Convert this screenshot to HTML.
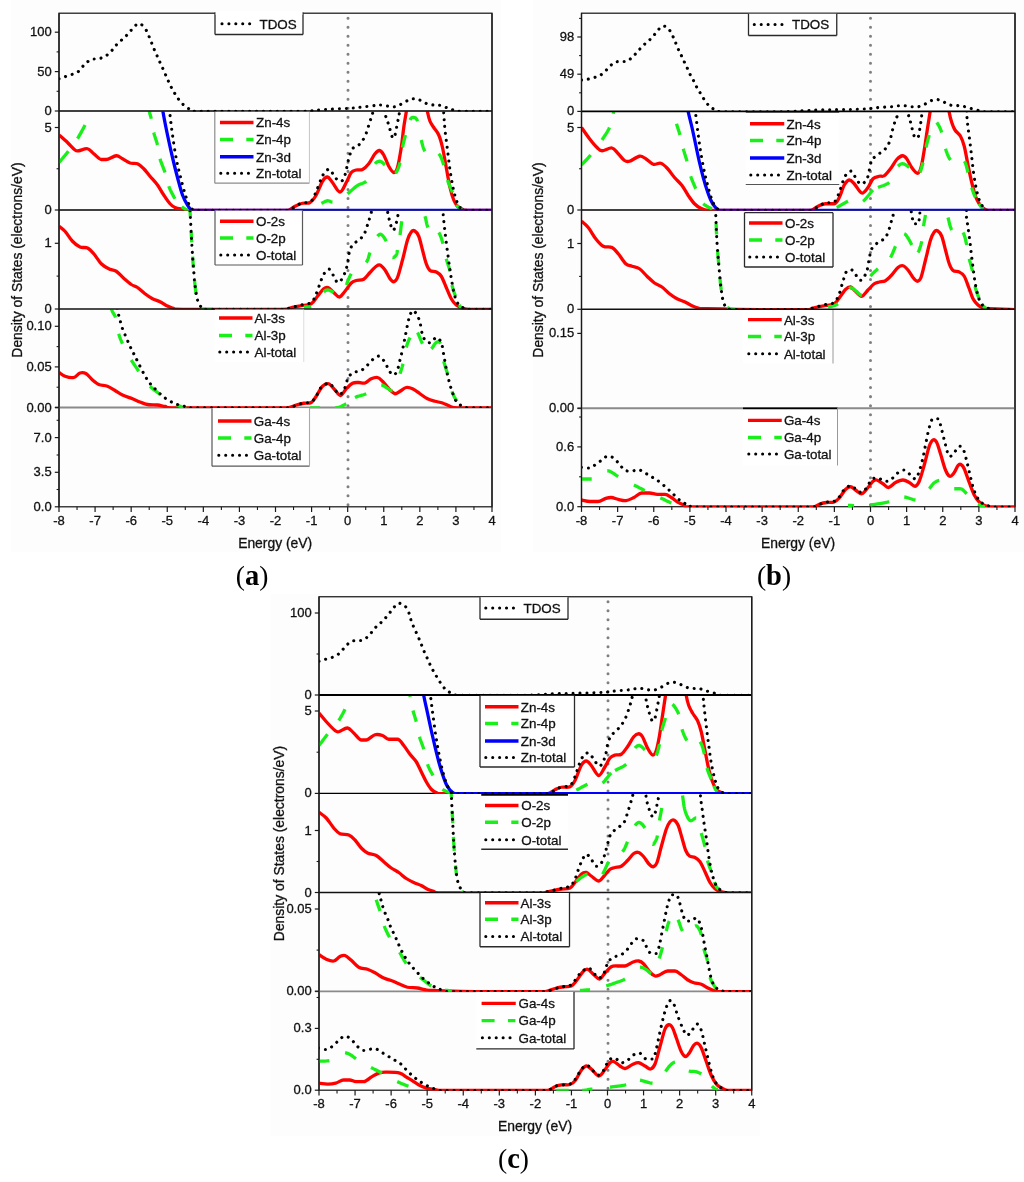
<!DOCTYPE html>
<html lang="en">
<head>
<meta charset="utf-8">
<title>Density of States</title>
<style>
html,body{margin:0;padding:0;background:#ffffff;}
body{width:1024px;height:1182px;overflow:hidden;}
svg{display:block;font-family:"Liberation Sans",sans-serif;}
</style>
</head>
<body>
<svg width="1024" height="1182" viewBox="0 0 1024 1182">
<defs>
<clipPath id="ca0"><rect x="59" y="13.7" width="433" height="97.8"/></clipPath>
<clipPath id="ca1"><rect x="59" y="111.5" width="433" height="99"/></clipPath>
<clipPath id="ca2"><rect x="59" y="210.5" width="433" height="99"/></clipPath>
<clipPath id="ca3"><rect x="59" y="309.5" width="433" height="98.5"/></clipPath>
<clipPath id="ca4"><rect x="59" y="408" width="433" height="99.3"/></clipPath>
<clipPath id="cb0"><rect x="581.5" y="13.7" width="433.5" height="98.2"/></clipPath>
<clipPath id="cb1"><rect x="581.5" y="111.9" width="433.5" height="98.6"/></clipPath>
<clipPath id="cb2"><rect x="581.5" y="210.5" width="433.5" height="99.3"/></clipPath>
<clipPath id="cb3"><rect x="581.5" y="309.8" width="433.5" height="99"/></clipPath>
<clipPath id="cb4"><rect x="581.5" y="408.8" width="433.5" height="98.4"/></clipPath>
<clipPath id="cc0"><rect x="319" y="597.25" width="432.75" height="98.25"/></clipPath>
<clipPath id="cc1"><rect x="319" y="695.5" width="432.75" height="98.4"/></clipPath>
<clipPath id="cc2"><rect x="319" y="793.9" width="432.75" height="99.1"/></clipPath>
<clipPath id="cc3"><rect x="319" y="893" width="432.75" height="98.8"/></clipPath>
<clipPath id="cc4"><rect x="319" y="991.8" width="432.75" height="98.9"/></clipPath>
</defs>
<rect x="11" y="0" width="490" height="552" fill="#fdfdfd"/>
<rect x="533" y="0" width="491" height="552" fill="#fdfdfd"/>
<rect x="271" y="594" width="489" height="542" fill="#fdfdfd"/>
<line x1="348" y1="18.2" x2="348" y2="506.8" stroke="#808080" stroke-width="3" stroke-dasharray="0.01 9" stroke-linecap="round"/>
<rect x="59" y="13.2" width="433" height="493.6" fill="none" stroke="#1a1a1a" stroke-width="1.25"/>
<line x1="59" y1="210" x2="492" y2="210" stroke="#000" stroke-width="1.4"/>
<line x1="55" y1="407.5" x2="492" y2="407.5" stroke="#8a8a8a" stroke-width="1.8"/>
<path d="M59 78.75C60 78.42 62.75 77.5 65 76.75C67.25 76 70.21 75.17 72.5 74.25C74.79 73.33 76.75 72.88 78.75 71.25C80.75 69.62 82.42 66.46 84.5 64.5C86.58 62.54 89.08 60.46 91.25 59.5C93.42 58.54 95.33 59.17 97.5 58.75C99.67 58.33 102.04 58.17 104.25 57C106.46 55.83 108.75 53.75 110.75 51.75C112.75 49.75 114.29 47.08 116.25 45C118.21 42.92 120.42 41.21 122.5 39.25C124.58 37.29 126.75 35.42 128.75 33.25C130.75 31.08 132.62 27.83 134.5 26.25C136.38 24.67 138.12 23.21 140 23.75C141.88 24.29 144.21 27.29 145.75 29.5C147.29 31.71 148.25 34.71 149.25 37C150.25 39.29 150.88 41.08 151.75 43.25C152.62 45.42 153.54 47.75 154.5 50C155.46 52.25 156.54 54.58 157.5 56.75C158.46 58.92 159.29 60.88 160.25 63C161.21 65.12 162.25 67.29 163.25 69.5C164.25 71.71 165.25 74 166.25 76.25C167.25 78.5 168.21 80.79 169.25 83C170.29 85.21 171.33 87.38 172.5 89.5C173.67 91.62 174.88 93.67 176.25 95.75C177.62 97.83 179 100.04 180.75 102C182.5 103.96 184.79 106.17 186.75 107.5C188.71 108.83 190.29 109.37 192.5 110C194.71 110.63 188.75 111.3 200 111.3C220 111.3 240 111.3 260 111.3C273.33 111.3 286.67 111.3 300 111.3C310.83 111.3 316.67 110.01 325 109.5C333.33 108.99 343.75 108.67 350 108.25C356.25 107.83 358.33 107.46 362.5 107C366.67 106.54 371.92 105.83 375 105.5C378.08 105.17 378.71 104.88 381 105C383.29 105.12 386.42 105.96 388.75 106.25C391.08 106.54 392.96 107.08 395 106.75C397.04 106.42 398.71 105.38 401 104.25C403.29 103.12 406.42 100.92 408.75 100C411.08 99.08 412.96 98.67 415 98.75C417.04 98.83 418.83 99.58 421 100.5C423.17 101.42 425.67 103.5 428 104.25C430.33 105 432.83 104.79 435 105C437.17 105.21 438.92 105 441 105.5C443.08 106 445.38 107.25 447.5 108C449.62 108.75 451.33 109.45 453.75 110C456.17 110.55 455.62 111.3 462 111.3C472 111.3 482 111.3 492 111.3" fill="none" stroke="#000000" stroke-width="3.1" stroke-dasharray="0.01 6.9" stroke-dashoffset="0" stroke-linecap="round" clip-path="url(#ca0)"/>
<path d="M59 135C60.42 136.25 64.83 140 67.5 142.5C70.17 145 73.12 148.62 75 150C76.88 151.38 76.67 150.96 78.75 150.75C80.83 150.54 85 148.25 87.5 148.75C90 149.25 91.46 151.96 93.75 153.75C96.04 155.54 99.17 159.5 101.25 159.5C102.92 159.5 104.58 159.5 106.25 159.5C108.75 159.5 113.54 155.88 116.25 155.75C118.96 155.62 120.21 157.54 122.5 158.75C124.79 159.96 127.5 162.17 130 163C132.5 163.83 135.21 162.79 137.5 163.75C139.79 164.71 141.67 166.67 143.75 168.75C145.83 170.83 147.71 173.54 150 176.25C152.29 178.96 155.21 181.88 157.5 185C159.79 188.12 161.67 191.88 163.75 195C165.83 198.12 168.12 201.67 170 203.75C171.88 205.83 172.92 206.58 175 207.5C177.08 208.42 180 208.78 182.5 209.25C185 209.72 180.42 210.3 190 210.3C206.67 210.3 223.33 210.3 240 210.3C253.33 210.3 266.67 210.3 280 210.3C282.5 210.3 285 210.3 287.5 210.3C290 210.3 292.5 207.43 295 206.25C297.5 205.07 300 203.88 302.5 203.25C305 202.62 307.71 203.88 310 202.5C312.29 201.12 314.17 198.54 316.25 195C318.33 191.46 320.62 184.25 322.5 181.25C324.38 178.25 325.83 176.79 327.5 177C329.17 177.21 330.42 180 332.5 182.5C334.58 185 337.71 192 340 192C342.29 192 344.38 185.75 346.25 182.5C348.12 179.25 349.58 174.58 351.25 172.5C352.92 170.42 354.38 170.5 356.25 170C358.12 169.5 360.42 170.54 362.5 169.5C364.58 168.46 366.67 166.38 368.75 163.75C370.83 161.12 373.21 155.96 375 153.75C376.79 151.54 378.04 150.29 379.5 150.5C380.96 150.71 382.21 152.38 383.75 155C385.29 157.62 387.08 163.33 388.75 166.25C390.42 169.17 392.29 172.29 393.75 172.5C395.21 172.71 396.25 171.67 397.5 167.5C398.75 163.33 400.21 154.17 401.25 147.5C402.29 140.83 402.92 133.42 403.75 127.5C404.58 121.58 405.38 117.42 406.25 112C407.12 106.58 407.21 100.33 409 95C410.79 89.67 414.42 80 417 80C419.58 80 422.75 89.67 424.5 95C426.25 100.33 426.58 107.62 427.5 112C428.42 116.38 428.96 118.67 430 121.25C431.04 123.83 432.29 125.21 433.75 127.5C435.21 129.79 437.29 131.67 438.75 135C440.21 138.33 441.25 142.08 442.5 147.5C443.75 152.92 445 160.83 446.25 167.5C447.5 174.17 448.75 182.08 450 187.5C451.25 192.92 452.5 196.88 453.75 200C455 203.12 456.04 204.71 457.5 206.25C458.96 207.79 460.83 208.57 462.5 209.25C464.17 209.93 462.58 210.3 467.5 210.3C475.67 210.3 483.83 210.3 492 210.3" fill="none" stroke="#ff0000" stroke-width="3.3" stroke-linejoin="round" stroke-linecap="butt" clip-path="url(#ca1)"/>
<path d="M59 162.5 L59.61 161.78 L60.41 160.85 L61.37 159.74 L62.44 158.5 L63.58 157.16 L64.74 155.77 L65.9 154.37 L67 153 L68.08 151.65 L68.44 151.19 M77.52 138.58 L78.69 136.66 L79.85 134.67 L81.01 132.63 L82.15 130.56 L83.26 128.47 L84.32 126.38 L85 125 M92 108 L92.67 106.09 L93.3 104.16 L93.9 102.26 L94.44 100.44 L94.92 98.75 L95.35 97.24 L95.71 95.98 L96 95" fill="none" stroke="#19f019" stroke-width="3.3" stroke-linejoin="round" stroke-linecap="butt" clip-path="url(#ca1)"/>
<path d="M146 95 L146.28 96.38 L146.67 98.29 L147.13 100.58 L147.64 103.08 L148.16 105.63 L148.67 108.07 L149.12 110.25 L149.5 112 L149.8 113.29 L150.04 114.24 L150.25 114.97 L150.44 115.58 L150.62 116.16 L150.8 116.81 L151.01 117.64 L151.25 118.75 M153.75 132.5 L154.17 134.11 L154.63 135.68 L155.12 137.22 L155.62 138.75 L156.13 140.28 L156.62 141.82 L157.08 143.39 L157.5 145 M160 158.75 L160.51 160.47 L161.1 162.19 L161.75 163.91 L162.42 165.62 L163.11 167.34 L163.78 169.06 L164.42 170.78 L165 172.5 M168.75 186.25 L169.42 187.92 L170.17 189.61 L170.97 191.3 L171.8 192.97 L172.64 194.58 L173.47 196.09 L174.26 197.5 L175 198.75 M181.79 206.69 L182.38 207.17 L182.98 207.61 L183.61 208.03 L184.28 208.4 L185 208.75 L185.5 209.07 L185.65 209.36 L185.68 209.63 L185.81 209.86 L186.28 210.04 L187.32 210.18 L189.15 210.27 L189.97 210.29 M321.32 203.37 L322.24 202.95 L323.11 202.52 L323.94 202.1 L324.73 201.7 L325.5 201.34 L326.25 201.05 L327 200.84 L327.75 200.73 L328.46 200.79 L329.13 200.98 L329.79 201.25 L330.44 201.55 L331.09 201.82 L331.77 202.01 L332.49 202.07 M347.5 193.75 L348.64 192.88 L349.85 191.88 L351.12 190.77 L352.42 189.62 L353.73 188.48 L355.03 187.38 L356.29 186.37 L357.5 185.5 L358.68 184.81 L359.87 184.27 L361.05 183.83 L362.2 183.44 L363.32 183.03 L364.37 182.57 L365.36 181.99 L366.25 181.25 M375 163.75 L375.58 163.12 L376.18 162.57 L376.8 162.12 L377.44 161.75 L378.08 161.48 L378.73 161.3 L379.37 161.22 L380 161.25 L380.62 161.4 L381.25 161.7 L381.88 162.1 L382.5 162.59 L383.12 163.15 L383.75 163.76 L384.38 164.38 L385 165 M395.68 173.34 L396.04 172.8 L396.39 172.18 L396.75 171.49 L397.13 170.75 L397.51 169.95 L397.89 169.08 L398.28 168.14 L398.66 167.12 L399.04 166 L399.41 164.78 L399.77 163.45 L400 162.5 M402.5 147.5 L402.84 145.83 L403.18 144.26 L403.52 142.74 L403.88 141.25 L404.24 139.76 L404.63 138.24 L405.05 136.67 L405.5 135 M410 120 L410.5 119.05 L410.99 118.35 L411.46 117.87 L411.92 117.58 L412.38 117.43 L412.83 117.39 L413.29 117.43 L413.75 117.5 L414.22 117.57 L414.69 117.65 L415.16 117.79 L415.62 118.05 L416.09 118.47 L416.56 119.11 L417.03 120.02 L417.5 121.25 M421.25 140 L421.7 141.83 L422.13 143.55 L422.56 145.16 L422.98 146.66 L423.43 148.02 L423.9 149.25 L424.42 150.33 L425 151.25 M438.75 153.75 L439.52 154.6 L440.22 155.7 L440.88 157 L441.5 158.45 L442.09 160.02 L442.65 161.67 L443.2 163.34 L443.75 165 M447.5 180 L448.07 181.68 L448.69 183.3 L449.34 184.87 L450 186.41 L450.66 187.92 L451.31 189.43 L451.93 190.95 L452.5 192.5 M456.25 205 L456.92 205.9 L457.65 206.6 L458.44 207.14 L459.27 207.56 L460.1 207.89 L460.93 208.17 L461.74 208.45 L462.5 208.75" fill="none" stroke="#19f019" stroke-width="3.3" stroke-linejoin="round" stroke-linecap="butt" clip-path="url(#ca1)"/>
<path d="M160.5 95C160.92 97.83 161.83 105.33 163 112C164.17 118.67 165.92 127.42 167.5 135C169.08 142.58 170.83 150.42 172.5 157.5C174.17 164.58 175.83 171.25 177.5 177.5C179.17 183.75 180.83 190.42 182.5 195C184.17 199.58 185.83 202.45 187.5 205C189.17 207.55 190.75 210.3 192.5 210.3C194.33 210.3 196.17 210.3 198 210.3C296 210.3 394 210.3 492 210.3" fill="none" stroke="#0000ff" stroke-width="3.3" stroke-linejoin="round" stroke-linecap="butt" clip-path="url(#ca1)"/>
<path d="M168 95C168.33 98.33 169.25 108.33 170 115C170.75 121.67 171.46 127.71 172.5 135C173.54 142.29 175 152.08 176.25 158.75C177.5 165.42 178.54 169.17 180 175C181.46 180.83 183.33 188.54 185 193.75C186.67 198.96 188.33 203.49 190 206.25C191.67 209.01 192.5 210.3 195 210.3C198.33 210.3 201.67 210.3 205 210.3C230 210.3 255 210.3 280 210.3" fill="none" stroke="#000000" stroke-width="3.1" stroke-dasharray="0.01 6.9" stroke-dashoffset="0" stroke-linecap="round" clip-path="url(#ca1)"/>
<path d="M280 210.3C282.5 210.3 285 210.3 287.5 210.3C290.83 210.3 296.08 205.26 300 203.75C303.92 202.24 308.29 203.33 311 201.25C313.71 199.17 314.54 195 316.25 191.25C317.96 187.5 319.79 181.96 321.25 178.75C322.71 175.54 323.54 173.54 325 172C326.46 170.46 328.33 168.58 330 169.5C331.67 170.42 333.12 175.54 335 177.5C336.88 179.46 339.58 181.67 341.25 181.25C342.92 180.83 343.75 178.75 345 175C346.25 171.25 347.5 163.12 348.75 158.75C350 154.38 350.83 151.04 352.5 148.75C354.17 146.46 356.67 147.08 358.75 145C360.83 142.92 363.12 140.21 365 136.25C366.88 132.29 368.75 125 370 121.25C371.25 117.5 371.67 117.29 372.5 113.75C373.33 110.21 373.92 103.62 375 100C376.08 96.38 377.67 92 379 92C380.33 92 382 96.38 383 100C384 103.62 384.04 109.58 385 113.75C385.96 117.92 387.5 121.04 388.75 125C390 128.96 391.46 135.83 392.5 137.5C393.54 139.17 394.17 137.5 395 135C395.83 132.5 396.79 126.04 397.5 122.5C398.21 118.96 398.67 118.33 399.25 113.75C399.83 109.17 397.54 102.29 401 95C404.46 87.71 413.17 70 420 70C426.83 70 438.04 87.71 442 95C445.96 102.29 443.25 107.92 443.75 113.75C444.25 119.58 444.38 123.96 445 130C445.62 136.04 446.67 143.33 447.5 150C448.33 156.67 449.08 163.75 450 170C450.92 176.25 451.96 182.5 453 187.5C454.04 192.5 455.08 196.67 456.25 200C457.42 203.33 458.54 205.78 460 207.5C461.46 209.22 463 210.3 465 210.3C467.33 210.3 469.67 210.3 472 210.3C478.67 210.3 485.33 210.3 492 210.3" fill="none" stroke="#000000" stroke-width="3.1" stroke-dasharray="0.01 6.9" stroke-dashoffset="0" stroke-linecap="round" clip-path="url(#ca1)"/>
<path d="M59 226.25C60 227.08 62.75 228.75 65 231.25C67.25 233.75 70 238.62 72.5 241.25C75 243.88 77.5 245.88 80 247C82.5 248.12 85.21 246.88 87.5 248C89.79 249.12 91.46 251.12 93.75 253.75C96.04 256.38 98.75 261.25 101.25 263.75C103.75 266.25 106.25 267.5 108.75 268.75C111.25 270 113.75 269.67 116.25 271.25C118.75 272.83 121.25 276.04 123.75 278.25C126.25 280.46 128.96 282.96 131.25 284.5C133.54 286.04 135.21 285.96 137.5 287.5C139.79 289.04 142.5 291.88 145 293.75C147.5 295.62 150 297.42 152.5 298.75C155 300.08 157.71 300.62 160 301.75C162.29 302.88 164.17 304.46 166.25 305.5C168.33 306.54 169.79 307.37 172.5 308C175.21 308.63 171.25 309.3 182.5 309.3C201.67 309.3 220.83 309.3 240 309.3C254 309.3 268 309.3 282 309.3C290.33 309.3 286.58 308.63 290 308C293.42 307.37 298.96 306.21 302.5 305.5C306.04 304.79 308.75 305.29 311.25 303.75C313.75 302.21 315.42 298.75 317.5 296.25C319.58 293.75 322 290.21 323.75 288.75C325.5 287.29 326.33 286.88 328 287.5C329.67 288.12 331.83 290.92 333.75 292.5C335.67 294.08 337.62 297.21 339.5 297C341.38 296.79 343.04 293.58 345 291.25C346.96 288.92 349.38 284.79 351.25 283C353.12 281.21 354.17 281.12 356.25 280.5C358.33 279.88 361.46 280.58 363.75 279.25C366.04 277.92 367.92 274.67 370 272.5C372.08 270.33 374.58 267.5 376.25 266.25C377.92 265 378.54 264.38 380 265C381.46 265.62 383.33 267.71 385 270C386.67 272.29 388.54 276.79 390 278.75C391.46 280.71 392.5 281.96 393.75 281.75C395 281.54 396.04 281.12 397.5 277.5C398.96 273.88 400.83 266.25 402.5 260C404.17 253.75 406.04 244.67 407.5 240C408.96 235.33 410.08 233.54 411.25 232C412.42 230.46 413.25 230.04 414.5 230.75C415.75 231.46 417.42 233.04 418.75 236.25C420.08 239.46 421.25 245.42 422.5 250C423.75 254.58 425 260.33 426.25 263.75C427.5 267.17 428.33 269.12 430 270.5C431.67 271.88 434.38 271.04 436.25 272C438.12 272.96 439.58 273.67 441.25 276.25C442.92 278.83 444.58 283.75 446.25 287.5C447.92 291.25 449.58 295.83 451.25 298.75C452.92 301.67 454.38 303.46 456.25 305C458.12 306.54 460.21 307.28 462.5 308C464.79 308.72 465.08 309.3 470 309.3C477.33 309.3 484.67 309.3 492 309.3" fill="none" stroke="#ff0000" stroke-width="3.3" stroke-linejoin="round" stroke-linecap="butt" clip-path="url(#ca2)"/>
<path d="M188.5 190 L188.61 191.42 L188.75 193.12 L188.91 195.13 L189.09 197.47 L189.3 200.15 L189.52 203.21 L189.75 206.65 L190 210.5 L190.26 215.01 L190.36 216.7 M191.19 232.16 L191.52 238.32 L191.74 242.36 M192.6 256.54 L192.92 261.01 L193.23 265.26 L193.44 267.97 M194.48 279.98 L194.79 283.07 L195.1 285.92 L195.4 288.46 L195.69 290.71 L195.98 292.72 L196.17 293.94 M201.79 308.01 L201.82 308.41 L201.95 308.73 L202.39 308.98 L203.33 309.16 L204.97 309.26 L207.5 309.3 L212.81 309.3 M303.75 307 L304.73 306.87 L305.67 306.83 L306.59 306.85 L307.48 306.87 L308.37 306.87 L309.24 306.79 L310.12 306.6 L311 306.25 M323.75 292 L324.34 291.43 L324.88 290.97 L325.39 290.61 L325.88 290.34 L326.36 290.16 L326.87 290.04 L327.41 289.99 L328 290 L328.65 290.09 L329.34 290.29 L330.07 290.56 L330.81 290.91 L331.56 291.29 L332.31 291.7 L333.04 292.11 L333.75 292.5 M346.25 285 L346.78 283.81 L347.34 282.43 L347.92 280.92 L348.53 279.36 L349.17 277.8 L349.84 276.3 L350.53 274.93 L351.25 273.75 M366.25 262.5 L366.94 261.46 L367.51 260.3 L368 259.06 L368.42 257.75 L368.81 256.41 L369.19 255.07 L369.57 253.76 L370 252.5 M377.5 236.25 L377.97 235.73 L378.43 235.26 L378.87 234.85 L379.31 234.53 L379.76 234.31 L380.23 234.22 L380.72 234.28 L381.25 234.5 L381.82 234.91 L382.44 235.5 L383.09 236.23 L383.75 237.09 L384.41 238.05 L385.06 239.08 L385.68 240.16 L386.25 241.25 M392.5 257.5 L392.93 257.59 L393.41 257.5 L393.92 257.26 L394.45 256.91 L394.97 256.47 L395.46 255.99 L395.89 255.49 L396.25 255 L396.52 254.56 L396.71 254.16 L396.85 253.75 L396.95 253.28 L397.05 252.72 L397.16 252.01 L397.3 251.12 L397.5 250 M400 235 L400.25 233.24 L400.48 231.53 L400.69 229.86 L400.89 228.2 L401.09 226.53 L401.29 224.83 L401.51 223.08 L401.75 221.25 M404 205 L404.72 201.95 L405.57 198.19 L406.53 194.07 L407.58 189.92 L408.67 186.1 L409.79 182.94 L410.91 180.79 L412 180 M425 216.25 L425.41 217.71 L425.77 219.24 L426.11 220.81 L426.44 222.36 L426.77 223.85 L427.13 225.23 L427.54 226.46 L428 227.5 M438.75 232.5 L439.36 233.41 L439.94 234.54 L440.5 235.84 L441.03 237.28 L441.55 238.83 L442.04 240.45 L442.53 242.1 L443 243.75 M446.25 258.75 L446.71 260.42 L447.19 262.02 L447.7 263.57 L448.2 265.08 L448.7 266.58 L449.17 268.1 L449.61 269.64 L450 271.25 M452 285 L452.36 286.53 L452.75 288.02 L453.16 289.46 L453.59 290.86 L454.05 292.23 L454.52 293.58 L455 294.92 L455.5 296.25 M459.15 305 L459.78 305.97 L460.38 306.77 L460.81 307.44 L461.15 308.01 L461.51 308.46 L462.01 308.81 L462.74 309.07 L463.83 309.23" fill="none" stroke="#19f019" stroke-width="3.3" stroke-linejoin="round" stroke-linecap="butt" clip-path="url(#ca2)"/>
<path d="M189 190C189.17 193.42 189.42 199.67 190 210.5C190.58 221.33 191.67 242.58 192.5 255C193.33 267.42 194.17 277.5 195 285C195.83 292.5 196.46 296.33 197.5 300C198.54 303.67 199.58 305.45 201.25 307C202.92 308.55 199.38 309.3 207.5 309.3C221.67 309.3 235.83 309.3 250 309.3C260.67 309.3 271.33 309.3 282 309.3C288.67 309.3 286.79 308.72 290 308C293.21 307.28 297.71 305.92 301.25 305C304.79 304.08 308.75 304.38 311.25 302.5C313.75 300.62 314.58 297.5 316.25 293.75C317.92 290 319.79 283.54 321.25 280C322.71 276.46 323.62 274.29 325 272.5C326.38 270.71 328.04 268.62 329.5 269.25C330.96 269.88 332.42 274.04 333.75 276.25C335.08 278.46 336.25 281.88 337.5 282.5C338.75 283.12 340 281.67 341.25 280C342.5 278.33 343.96 275.21 345 272.5C346.04 269.79 346.79 267.08 347.5 263.75C348.21 260.42 348.42 255.62 349.25 252.5C350.08 249.38 350.92 247.08 352.5 245C354.08 242.92 356.88 241.67 358.75 240C360.62 238.33 362.29 237.5 363.75 235C365.21 232.5 366.25 228.75 367.5 225C368.75 221.25 370 217 371.25 212.5C372.5 208 373.54 201.75 375 198C376.46 194.25 378.33 189.67 380 190C381.67 190.33 383.62 195.83 385 200C386.38 204.17 387.42 211.25 388.25 215C389.08 218.75 389.29 220 390 222.5C390.71 225 391.67 229.17 392.5 230C393.33 230.83 394.17 229.58 395 227.5C395.83 225.42 396.96 220 397.5 217.5C398.04 215 397.83 216.25 398.25 212.5C398.67 208.75 396.38 203.75 400 195C403.62 186.25 413 160 420 160C427 160 438.12 185.83 442 195C445.88 204.17 442.83 209.58 443.25 215C443.67 220.42 444 222.92 444.5 227.5C445 232.08 445.62 237.5 446.25 242.5C446.88 247.5 447.62 252.92 448.25 257.5C448.88 262.08 449.38 265.83 450 270C450.62 274.17 451.25 278.33 452 282.5C452.75 286.67 453.5 291.46 454.5 295C455.5 298.54 456.67 301.67 458 303.75C459.33 305.83 460.5 306.57 462.5 307.5C464.5 308.43 465.08 309.3 470 309.3C477.33 309.3 484.67 309.3 492 309.3" fill="none" stroke="#000000" stroke-width="3.1" stroke-dasharray="0.01 6.9" stroke-dashoffset="0" stroke-linecap="round" clip-path="url(#ca2)"/>
<path d="M59 372.5C60 373.12 62.54 375.42 65 376.25C67.46 377.08 71.25 378.04 73.75 377.5C76.25 376.96 77.92 373.62 80 373C82.08 372.38 84.17 372.58 86.25 373.75C88.33 374.92 90.42 378.21 92.5 380C94.58 381.79 96.25 383.46 98.75 384.5C101.25 385.54 104.79 385.25 107.5 386.25C110.21 387.25 112.5 389.04 115 390.5C117.5 391.96 119.58 393.62 122.5 395C125.42 396.38 129.58 397.58 132.5 398.75C135.42 399.92 137.5 401.04 140 402C142.5 402.96 144.58 404 147.5 404.5C150.42 405 154.58 404.67 157.5 405C160.42 405.33 162.08 406.03 165 406.5C167.92 406.97 164.17 407.8 175 407.8C193.33 407.8 211.67 407.8 230 407.8C246.67 407.8 263.33 407.8 280 407.8C282.5 407.8 285 407.8 287.5 407.8C290.21 407.8 293.54 405.76 296.25 405C298.96 404.24 301.25 403.67 303.75 403.25C306.25 402.83 309.17 403.67 311.25 402.5C313.33 401.33 314.38 398.96 316.25 396.25C318.12 393.54 320.42 388.33 322.5 386.25C324.58 384.17 326.67 383.12 328.75 383.75C330.83 384.38 333.04 388.04 335 390C336.96 391.96 338.62 395.71 340.5 395.5C342.38 395.29 344.25 390.79 346.25 388.75C348.25 386.71 350.42 384.29 352.5 383.25C354.58 382.21 356.67 382.54 358.75 382.5C360.83 382.46 362.92 383.62 365 383C367.08 382.38 369.17 379.67 371.25 378.75C373.33 377.83 375.62 377.08 377.5 377.5C379.38 377.92 380.42 379.17 382.5 381.25C384.58 383.33 387.92 387.92 390 390C392.08 392.08 393.33 393.54 395 393.75C396.67 393.96 398.12 392.29 400 391.25C401.88 390.21 404.17 387.92 406.25 387.5C408.33 387.08 410.21 387.71 412.5 388.75C414.79 389.79 417.5 392.08 420 393.75C422.5 395.42 425 397.5 427.5 398.75C430 400 432.5 400.54 435 401.25C437.5 401.96 440 402.17 442.5 403C445 403.83 447.5 405.45 450 406.25C452.5 407.05 450.5 407.8 457.5 407.8C469 407.8 480.5 407.8 492 407.8" fill="none" stroke="#ff0000" stroke-width="3.3" stroke-linejoin="round" stroke-linecap="butt" clip-path="url(#ca3)"/>
<path d="M108 295 L108.31 296.25 L108.73 297.98 L109.23 300.05 L109.78 302.31 L110.36 304.63 L110.94 306.86 L111.5 308.86 L112 310.5 L112.46 311.72 L112.92 312.63 L113.36 313.34 L113.8 313.95 L114.23 314.57 L114.65 315.3 L115.08 316.24 L115.5 317.5 M118.75 333.75 L119.19 335.31 L119.63 336.73 L120.09 338.03 L120.55 339.25 L121.02 340.4 L121.5 341.52 L121.99 342.63 L122.5 343.75 M131.25 360 L132.05 361.27 L132.95 362.67 L133.92 364.13 L134.94 365.64 L135.96 367.14 L136.96 368.61 L137.9 369.99 L138.75 371.25 M150 386.25 L151.07 387.25 L152.27 388.29 L153.54 389.37 L154.88 390.45 L156.22 391.53 L157.55 392.57 L158.82 393.57 L160 394.5 M176.25 404.5 L177.39 404.99 L178.54 405.53 L179.71 406.08 L180.91 406.61 L182.15 407.08 L183.45 407.46 L184.81 407.71 L186.25 407.8 M310 407.8 L320 407.8 M335 407.8 L336.6 407.7 L338.13 407.41 L339.6 406.97 L341.02 406.42 L342.38 405.79 L343.7 405.11 L344.99 404.42 L346.25 403.75 M355 397.5 L356.31 396.93 L357.72 396.43 L359.19 396 L360.69 395.59 L362.18 395.19 L363.62 394.77 L364.99 394.3 L366.25 393.75 M381.25 385 L382.04 385.09 L382.8 385.33 L383.53 385.7 L384.23 386.14 L384.93 386.63 L385.62 387.13 L386.3 387.6 L387 388 L387.71 388.4 L388.44 388.86 L389.17 389.34 L389.89 389.8 L390.59 390.21 L391.27 390.53 L391.91 390.72 L392.5 390.75 M400 373.75 L400.42 372.39 L400.81 371.17 L401.19 370.04 L401.55 368.94 L401.9 367.81 L402.26 366.61 L402.62 365.28 L403 363.75 M406.25 347.5 L406.69 345.93 L407.15 344.48 L407.61 343.14 L408.08 341.89 L408.55 340.72 L409.03 339.61 L409.52 338.54 L410 337.5 M417.5 332.5 L418.06 333.48 L418.66 334.77 L419.29 336.27 L419.94 337.89 L420.6 339.54 L421.25 341.13 L421.89 342.56 L422.5 343.75 M431.25 348.75 L431.84 348.2 L432.46 347.43 L433.1 346.52 L433.75 345.53 L434.4 344.56 L435.04 343.68 L435.66 342.96 L436.25 342.5 L436.82 342.19 L437.39 341.9 L437.94 341.71 L438.48 341.64 L439.01 341.76 L439.53 342.12 L440.02 342.76 L440.5 343.75 M443.75 361.25 L444.19 363.02 L444.63 364.61 L445.09 366.08 L445.55 367.5 L446.02 368.92 L446.5 370.39 L446.99 371.98 L447.5 373.75 M452 391.25 L452.59 392.89 L453.19 394.39 L453.79 395.76 L454.41 397.02 L455.03 398.18 L455.67 399.26 L456.32 400.28 L457 401.25" fill="none" stroke="#19f019" stroke-width="3.3" stroke-linejoin="round" stroke-linecap="butt" clip-path="url(#ca3)"/>
<path d="M114 295C114.67 297.92 117 308.33 118 312.5C119 316.67 119.25 317.29 120 320C120.75 322.71 121.46 325.83 122.5 328.75C123.54 331.67 125 334.58 126.25 337.5C127.5 340.42 128.75 343.54 130 346.25C131.25 348.96 132.5 351.25 133.75 353.75C135 356.25 136.04 358.33 137.5 361.25C138.96 364.17 140.83 368.12 142.5 371.25C144.17 374.38 145.83 377.5 147.5 380C149.17 382.5 150.62 384.17 152.5 386.25C154.38 388.33 156.67 390.54 158.75 392.5C160.83 394.46 162.71 396.33 165 398C167.29 399.67 170.21 401.33 172.5 402.5C174.79 403.67 176.67 404.33 178.75 405C180.83 405.67 182.92 406.03 185 406.5C187.08 406.97 183.75 407.8 191.25 407.8C204.17 407.8 217.08 407.8 230 407.8C246.67 407.8 263.33 407.8 280 407.8C282.5 407.8 285 407.8 287.5 407.8C291.25 407.8 298.54 404.22 302.5 403.25C306.46 402.28 308.96 403.17 311.25 402C313.54 400.83 314.79 398.46 316.25 396.25C317.71 394.04 318.54 390.71 320 388.75C321.46 386.79 323.33 385.33 325 384.5C326.67 383.67 328.33 382.83 330 383.75C331.67 384.67 333.33 388.21 335 390C336.67 391.79 338.33 394.92 340 394.5C341.67 394.08 343.62 390.33 345 387.5C346.38 384.67 346.79 380 348.25 377.5C349.71 375 351.58 373.67 353.75 372.5C355.92 371.33 358.96 371.75 361.25 370.5C363.54 369.25 365.42 366.96 367.5 365C369.58 363.04 371.75 360.21 373.75 358.75C375.75 357.29 377.62 355.62 379.5 356.25C381.38 356.88 383.46 360.21 385 362.5C386.54 364.79 387.42 367.92 388.75 370C390.08 372.08 391.62 374.79 393 375C394.38 375.21 395.83 373.75 397 371.25C398.17 368.75 399 363.96 400 360C401 356.04 402.08 351.67 403 347.5C403.92 343.33 404.67 339.17 405.5 335C406.33 330.83 407.25 325.83 408 322.5C408.75 319.17 409.17 317 410 315C410.83 313 411.83 310.5 413 310.5C414.17 310.5 415.83 313 417 315C418.17 317 419.08 319.17 420 322.5C420.92 325.83 421.46 331.88 422.5 335C423.54 338.12 424.79 340 426.25 341.25C427.71 342.5 429.58 343.12 431.25 342.5C432.92 341.88 434.58 337.5 436.25 337.5C437.92 337.5 440 339.58 441.25 342.5C442.5 345.42 442.92 350.62 443.75 355C444.58 359.38 445.42 364.58 446.25 368.75C447.08 372.92 447.79 376.25 448.75 380C449.71 383.75 450.75 387.71 452 391.25C453.25 394.79 454.5 398.75 456.25 401.25C458 403.75 460.21 405.16 462.5 406.25C464.79 407.34 465.08 407.8 470 407.8C477.33 407.8 484.67 407.8 492 407.8" fill="none" stroke="#000000" stroke-width="3.1" stroke-dasharray="0.01 6.9" stroke-dashoffset="0" stroke-linecap="round" clip-path="url(#ca3)"/>
<line x1="59" y1="111" x2="492" y2="111" stroke="#000" stroke-width="1.3"/>
<line x1="59" y1="309" x2="492" y2="309" stroke="#111" stroke-width="1.4"/>
<line x1="59" y1="13.2" x2="59" y2="506.8" stroke="#1a1a1a" stroke-width="1.25"/>
<line x1="492" y1="13.2" x2="492" y2="506.8" stroke="#1a1a1a" stroke-width="1.25"/>
<line x1="870.5" y1="18.2" x2="870.5" y2="506.7" stroke="#808080" stroke-width="3" stroke-dasharray="0.01 9" stroke-linecap="round"/>
<rect x="581.5" y="13.2" width="433.5" height="493.5" fill="none" stroke="#1a1a1a" stroke-width="1.25"/>
<line x1="581.5" y1="210" x2="1015" y2="210" stroke="#000" stroke-width="1.4"/>
<line x1="577.5" y1="408.3" x2="1015" y2="408.3" stroke="#8a8a8a" stroke-width="1.9"/>
<path d="M581.5 80C582.5 79.88 585.33 79.67 587.5 79.25C589.67 78.83 592.29 78.21 594.5 77.5C596.71 76.79 598.67 76.33 600.75 75C602.83 73.67 604.92 71.46 607 69.5C609.08 67.54 611.17 64.58 613.25 63.25C615.33 61.92 617.42 61.5 619.5 61.5C621.58 61.5 623.67 61.5 625.75 61.5C627.92 61.5 630.42 58.79 632.5 57C634.58 55.21 636.25 52.88 638.25 50.75C640.25 48.62 642.42 46.25 644.5 44.25C646.58 42.25 648.79 40.71 650.75 38.75C652.71 36.79 654.38 34.58 656.25 32.5C658.12 30.42 660.08 27 662 26.25C663.92 25.5 666.08 26.62 667.75 28C669.42 29.38 670.79 32.29 672 34.5C673.21 36.71 674.04 39 675 41.25C675.96 43.5 676.79 45.83 677.75 48C678.71 50.17 679.75 52.12 680.75 54.25C681.75 56.38 682.71 58.54 683.75 60.75C684.79 62.96 685.96 65.25 687 67.5C688.04 69.75 688.96 72.17 690 74.25C691.04 76.33 692.17 77.92 693.25 80C694.33 82.08 695.33 84.58 696.5 86.75C697.67 88.92 698.92 90.79 700.25 93C701.58 95.21 702.96 97.79 704.5 100C706.04 102.21 707.62 104.58 709.5 106.25C711.38 107.92 713.33 109.09 715.75 110C718.17 110.91 713.29 111.7 724 111.7C742.67 111.7 761.33 111.7 780 111.7C795.67 111.7 806.67 110.37 818 110C829.33 109.63 839.67 109.71 848 109.5C856.33 109.29 862.79 109.08 868 108.75C873.21 108.42 875.29 107.83 879.25 107.5C883.21 107.17 888.62 107.04 891.75 106.75C894.88 106.46 895.92 105.75 898 105.75C900.08 105.75 902.17 105.75 904.25 105.75C906.42 105.75 908.79 106.75 911 106.75C913.17 106.75 915.33 106.75 917.5 106.75C919.71 106.75 922 105.5 924.25 104.5C926.5 103.5 928.83 101.58 931 100.75C933.17 99.92 935.12 99.29 937.25 99.5C939.38 99.71 941.62 101.08 943.75 102C945.88 102.92 947.83 104.42 950 105C952.17 105.58 954.58 105.29 956.75 105.5C958.92 105.71 960.79 105.79 963 106.25C965.21 106.71 967.71 107.62 970 108.25C972.29 108.88 974.25 109.42 976.75 110C979.25 110.58 978.62 111.7 985 111.7C995 111.7 1005 111.7 1015 111.7" fill="none" stroke="#000000" stroke-width="3.1" stroke-dasharray="0.01 6.9" stroke-dashoffset="0" stroke-linecap="round" clip-path="url(#cb0)"/>
<path d="M581.5 127.5C582.83 129.38 586.92 135.42 589.5 138.75C592.08 142.08 594.92 145.5 597 147.5C599.08 149.5 599.5 150.67 602 150.75C604.5 150.83 609.29 147.5 612 148C614.71 148.5 616.17 151.67 618.25 153.75C620.33 155.83 622.62 159.25 624.5 160.5C626.38 161.75 627 161.96 629.5 161.25C632 160.54 636.79 156.67 639.5 156.25C642.21 155.83 643.46 157.42 645.75 158.75C648.04 160.08 650.75 163.5 653.25 164.25C655.75 165 658.46 162.62 660.75 163.25C663.04 163.88 664.71 165.62 667 168C669.29 170.38 672 174.58 674.5 177.5C677 180.42 679.71 182.5 682 185.5C684.29 188.5 686.17 192.46 688.25 195.5C690.33 198.54 692.42 201.62 694.5 203.75C696.58 205.88 698.46 207.16 700.75 208.25C703.04 209.34 705.71 210.3 708.25 210.3C710.83 210.3 713.42 210.3 716 210.3C730.67 210.3 745.33 210.3 760 210.3C774.33 210.3 788.67 210.3 803 210.3C805.5 210.3 808 210.3 810.5 210.3C813 210.3 815.5 207.34 818 206.25C820.5 205.16 822.79 203.75 825.5 203.75C828.42 203.75 831.33 203.75 834.25 203.75C836.54 203.75 837.58 200.62 839.25 197.5C840.92 194.38 842.58 187.92 844.25 185C845.92 182.08 847.58 180.21 849.25 180C850.92 179.79 852.17 181.58 854.25 183.75C856.33 185.92 859.46 192.38 861.75 193C864.04 193.62 866.12 189.88 868 187.5C869.88 185.12 871.12 180.62 873 178.75C874.88 176.88 877.38 176.75 879.25 176.25C881.12 175.75 882.38 177 884.25 175.75C886.12 174.5 888.42 171.46 890.5 168.75C892.58 166.04 894.75 161.67 896.75 159.5C898.75 157.33 900.83 155.88 902.5 155.75C904.17 155.62 905.21 156.79 906.75 158.75C908.29 160.71 909.96 165.08 911.75 167.5C913.54 169.92 915.96 173.25 917.5 173.25C919.04 173.25 919.88 171.38 921 167.5C922.12 163.62 923.21 156.25 924.25 150C925.29 143.75 926.29 136.25 927.25 130C928.21 123.75 929.12 118.33 930 112.5C930.88 106.67 930.83 100.42 932.5 95C934.17 89.58 937.58 80 940 80C942.42 80 945.46 89.58 947 95C948.54 100.42 948.46 107.92 949.25 112.5C950.04 117.08 950.79 119.58 951.75 122.5C952.71 125.42 953.54 127.71 955 130C956.46 132.29 958.96 133.54 960.5 136.25C962.04 138.96 963 141.46 964.25 146.25C965.5 151.04 966.75 158.96 968 165C969.25 171.04 970.5 177.29 971.75 182.5C973 187.71 974.25 192.71 975.5 196.25C976.75 199.79 978 201.79 979.25 203.75C980.5 205.71 981.54 206.91 983 208C984.46 209.09 986 210.3 988 210.3C990.33 210.3 992.67 210.3 995 210.3C1001.67 210.3 1008.33 210.3 1015 210.3" fill="none" stroke="#ff0000" stroke-width="3.3" stroke-linejoin="round" stroke-linecap="butt" clip-path="url(#cb1)"/>
<path d="M581.5 165 L582.23 164.21 L583.23 163.16 L584.42 161.89 L585.73 160.5 L587.09 159.04 L588.43 157.59 L589.67 156.22 L590.75 155 M602 140 L602.84 138.71 L603.79 137.29 L604.79 135.77 L605.83 134.17 L606.85 132.52 L607.83 130.84 L608.72 129.16 L609.5 127.5 M613.25 113.75 L613.65 111.99 L614.03 110.18 L614.39 108.34 L614.73 106.52 L615.07 104.74 L615.39 103.03 L615.7 101.44 L616 100 L616.3 98.67 L616.6 97.41 L616.89 96.23 L617.17 95.14 L617.43 94.16 L617.66 93.3 L617.85 92.58 L618 92" fill="none" stroke="#19f019" stroke-width="3.3" stroke-linejoin="round" stroke-linecap="butt" clip-path="url(#cb1)"/>
<path d="M676.5 123.75 L676.92 125.16 L677.35 126.54 L677.79 127.9 L678.23 129.25 L678.68 130.62 L679.13 132.02 L679.57 133.48 L680 135 M683.25 148.75 L683.69 150.36 L684.15 151.9 L684.62 153.42 L685.09 154.92 L685.57 156.43 L686.05 157.98 L686.53 159.58 L687 161.25 M690.75 176.25 L691.32 177.96 L691.94 179.65 L692.59 181.31 L693.25 182.92 L693.91 184.48 L694.56 185.98 L695.18 187.41 L695.75 188.75 M703.25 203.75 L704.11 204.48 L705.1 205.2 L706.2 205.9 L707.36 206.57 L708.55 207.2 L709.75 207.78 L710.91 208.3 L712 208.75 M836.75 207.5 L837.98 206.85 L839.39 206.05 L840.91 205.17 L842.48 204.25 L844.04 203.34 L845.52 202.51 L846.86 201.79 L848 201.25 M863 201.25 L863.62 200.81 L864.25 200.27 L864.88 199.64 L865.5 198.95 L866.12 198.22 L866.75 197.47 L867.38 196.72 L868 196 L868.62 195.26 L869.25 194.47 L869.88 193.65 L870.5 192.83 L871.12 192.03 L871.75 191.27 L872.38 190.59 L873 190 M878 187.5 L879.15 187.03 L880.53 186.53 L882.05 186.01 L883.64 185.44 L885.23 184.81 L886.75 184.12 L888.11 183.36 L889.25 182.5 M898 166.25 L898.57 165.69 L899.15 165.18 L899.75 164.73 L900.36 164.34 L900.99 164.04 L901.64 163.84 L902.31 163.73 L903 163.75 L903.72 163.91 L904.49 164.21 L905.27 164.62 L906.08 165.12 L906.89 165.69 L907.69 166.29 L908.48 166.9 L909.25 167.5 M920 172.5 L920.33 171.69 L920.68 170.71 L921.05 169.59 L921.44 168.34 L921.83 166.99 L922.23 165.55 L922.62 164.05 L923 162.5 M926 147.5 L926.39 145.82 L926.78 144.21 L927.18 142.65 L927.58 141.12 L927.98 139.61 L928.4 138.1 L928.82 136.57 L929.25 135 M936.75 122.5 L937.32 123.25 L937.94 124.19 L938.59 125.28 L939.25 126.52 L939.91 127.87 L940.56 129.34 L941.18 130.89 L941.75 132.5 M945.5 148.75 L946.05 150.46 L946.63 152.13 L947.22 153.74 L947.83 155.27 L948.46 156.68 L949.12 157.96 L949.79 159.07 L950.5 160 M964.25 161.25 L964.89 162.06 L965.43 163.13 L965.91 164.43 L966.34 165.89 L966.75 167.48 L967.14 169.14 L967.56 170.83 L968 172.5 M971.75 187.5 L972.2 188.99 L972.63 190.35 L973.05 191.62 L973.47 192.81 L973.91 193.97 L974.39 195.12 L974.91 196.28 L975.5 197.5 M979.02 203.84 L979.85 205.11 L980.68 206.25 L981.49 207.22 L982.2 208 L982.7 208.65 L983.06 209.17" fill="none" stroke="#19f019" stroke-width="3.3" stroke-linejoin="round" stroke-linecap="butt" clip-path="url(#cb1)"/>
<path d="M685 95C685.54 97.83 687.08 106.58 688.25 112C689.42 117.42 690.75 122 692 127.5C693.25 133 694.5 139.17 695.75 145C697 150.83 698.25 157.08 699.5 162.5C700.75 167.92 702 172.92 703.25 177.5C704.5 182.08 705.75 186.25 707 190C708.25 193.75 709.5 197.29 710.75 200C712 202.71 713.04 204.53 714.5 206.25C715.96 207.97 717.58 210.3 719.5 210.3C721.67 210.3 723.83 210.3 726 210.3C822.33 210.3 918.67 210.3 1015 210.3" fill="none" stroke="#0000ff" stroke-width="3.3" stroke-linejoin="round" stroke-linecap="butt" clip-path="url(#cb1)"/>
<path d="M693 95C693.46 98.33 694.88 108.33 695.75 115C696.62 121.67 697.42 128.75 698.25 135C699.08 141.25 699.71 146.25 700.75 152.5C701.79 158.75 703.25 166.67 704.5 172.5C705.75 178.33 707 182.92 708.25 187.5C709.5 192.08 710.75 196.75 712 200C713.25 203.25 714.29 205.28 715.75 207C717.21 208.72 718.38 210.3 720.75 210.3C723.83 210.3 726.92 210.3 730 210.3C754.33 210.3 778.67 210.3 803 210.3" fill="none" stroke="#000000" stroke-width="3.1" stroke-dasharray="0.01 6.9" stroke-dashoffset="0" stroke-linecap="round" clip-path="url(#cb1)"/>
<path d="M803 210.3C805.5 210.3 808 210.3 810.5 210.3C814.04 210.3 820.29 204.63 824.25 203.25C828.21 201.87 831.75 203.79 834.25 202C836.75 200.21 837.79 195.96 839.25 192.5C840.71 189.04 841.75 184.38 843 181.25C844.25 178.12 845.29 175.42 846.75 173.75C848.21 172.08 850.29 170.62 851.75 171.25C853.21 171.88 854.12 175.42 855.5 177.5C856.88 179.58 858.54 182.92 860 183.75C861.46 184.58 862.92 183.75 864.25 182.5C865.58 181.25 866.88 179.58 868 176.25C869.12 172.92 869.75 165.83 871 162.5C872.25 159.17 873.29 158.33 875.5 156.25C877.71 154.17 881.96 152.29 884.25 150C886.54 147.71 887.88 145.83 889.25 142.5C890.62 139.17 891.46 133.75 892.5 130C893.54 126.25 894.58 122.71 895.5 120C896.42 117.29 897.17 117.08 898 113.75C898.83 110.42 899.58 103.46 900.5 100C901.42 96.54 902.5 93 903.5 93C904.5 93 905.67 96.33 906.5 100C907.33 103.67 907.75 111.04 908.5 115C909.25 118.96 910.04 120.21 911 123.75C911.96 127.29 913.08 133.96 914.25 136.25C915.42 138.54 917.04 138.96 918 137.5C918.96 136.04 919.38 131.25 920 127.5C920.62 123.75 921.17 120.42 921.75 115C922.33 109.58 919.96 102.5 923.5 95C927.04 87.5 936.08 70 943 70C949.92 70 961.04 87.5 965 95C968.96 102.5 966.25 109.58 966.75 115C967.25 120.42 967.46 122.92 968 127.5C968.54 132.08 969.38 137.5 970 142.5C970.62 147.5 971.17 152.5 971.75 157.5C972.33 162.5 972.79 167.5 973.5 172.5C974.21 177.5 975.04 182.92 976 187.5C976.96 192.08 978.08 196.75 979.25 200C980.42 203.25 981.75 205.28 983 207C984.25 208.72 985.08 210.3 986.75 210.3C988.83 210.3 990.92 210.3 993 210.3C1000.33 210.3 1007.67 210.3 1015 210.3" fill="none" stroke="#000000" stroke-width="3.1" stroke-dasharray="0.01 6.9" stroke-dashoffset="0" stroke-linecap="round" clip-path="url(#cb1)"/>
<path d="M581.5 221.25C582.62 222.29 585.88 224.58 588.25 227.5C590.62 230.42 593.25 235.62 595.75 238.75C598.25 241.88 600.54 244.79 603.25 246.25C605.96 247.71 609.5 246.25 612 247.5C614.5 248.75 615.96 251.04 618.25 253.75C620.54 256.46 623.46 261.67 625.75 263.75C628.04 265.83 629.71 265.42 632 266.25C634.29 267.08 637 267.08 639.5 268.75C642 270.42 644.5 273.88 647 276.25C649.5 278.62 652 281.21 654.5 283C657 284.79 659.5 285.21 662 287C664.5 288.79 667 291.79 669.5 293.75C672 295.71 674.5 297.42 677 298.75C679.5 300.08 682 300.58 684.5 301.75C687 302.92 689.71 304.71 692 305.75C694.29 306.79 695.75 307.5 698.25 308C700.75 308.5 696.71 308.48 707 308.75C717.29 309.02 743.67 309.6 760 309.6C775 309.6 790 309.6 805 309.6C813.83 309.6 809.58 308.68 813 308C816.42 307.32 821.96 306.21 825.5 305.5C829.04 304.79 831.75 305.29 834.25 303.75C836.75 302.21 838.62 298.62 840.5 296.25C842.38 293.88 843.83 291.04 845.5 289.5C847.17 287.96 848.83 286.71 850.5 287C852.17 287.29 853.62 289.71 855.5 291.25C857.38 292.79 859.67 296.46 861.75 296.25C863.83 296.04 865.92 292.08 868 290C870.08 287.92 872.38 285.08 874.25 283.75C876.12 282.42 877.38 282.5 879.25 282C881.12 281.5 883.42 281.92 885.5 280.75C887.58 279.58 889.67 277.21 891.75 275C893.83 272.79 896.12 269.04 898 267.5C899.88 265.96 901.33 265.33 903 265.75C904.67 266.17 906.33 268.04 908 270C909.67 271.96 911.46 275.62 913 277.5C914.54 279.38 915.92 281.25 917.25 281.25C918.58 281.25 919.62 281.04 921 277.5C922.38 273.96 923.92 266.25 925.5 260C927.08 253.75 929.04 244.67 930.5 240C931.96 235.33 933.08 233.54 934.25 232C935.42 230.46 936.25 230.04 937.5 230.75C938.75 231.46 940.42 233.04 941.75 236.25C943.08 239.46 944.25 245.42 945.5 250C946.75 254.58 948 260.33 949.25 263.75C950.5 267.17 951.33 269.12 953 270.5C954.67 271.88 957.38 271.04 959.25 272C961.12 272.96 962.67 273.67 964.25 276.25C965.83 278.83 967.29 283.75 968.75 287.5C970.21 291.25 971.46 295.83 973 298.75C974.54 301.67 976.33 303.46 978 305C979.67 306.54 981.12 307.38 983 308C984.88 308.62 983.92 308.48 989.25 308.75C994.58 309.02 1010.71 309.46 1015 309.6" fill="none" stroke="#ff0000" stroke-width="3.3" stroke-linejoin="round" stroke-linecap="butt" clip-path="url(#cb2)"/>
<path d="M715 195 L715.05 196.49 L715.12 198.42 L715.2 200.71 L715.3 203.28 L715.36 205.12 M716.1 223.7 L716.25 227.24 L716.4 230.84 L716.57 234.44 M717.52 250.05 L717.77 253.22 L718.02 256.35 L718.29 259.44 L718.55 262.5 L718.73 264.51 M719.89 277.5 L720.17 280.42 L720.45 283.24 L720.74 285.93 L721.04 288.44 L721.25 290 M727.18 307.45 L727.8 307.77 L728.45 308.12 L728.79 308.46 L728.88 308.76 L728.95 309.02 L729.19 309.23 L729.82 309.4 L731.05 309.52 L733.09 309.59 L735 309.6 M828 307 L829.52 306.66 L830.95 306.36 L832.29 306.07 L833.56 305.76 L834.76 305.4 L835.9 304.96 L836.98 304.42 L838 303.75 M849.25 288.75 L849.7 288.37 L850.08 288.09 L850.41 287.9 L850.7 287.8 L850.99 287.76 L851.28 287.79 L851.61 287.88 L852 288 L852.43 288.19 L852.87 288.46 L853.33 288.81 L853.81 289.2 L854.32 289.64 L854.85 290.09 L855.41 290.55 L856 291 L856.65 291.53 L857.35 292.21 L858.09 292.95 L858.86 293.69 L859.63 294.33 L860.38 294.82 L861.09 295.07 L861.75 295 M870.5 276.25 L871.3 275.15 L872.18 274.11 L873.11 273.12 L874.09 272.19 L875.09 271.29 L876.09 270.43 L877.07 269.58 L878 268.75 M890.5 257.5 L891.15 256.36 L891.8 255.07 L892.43 253.66 L893.06 252.17 L893.68 250.65 L894.3 249.13 L894.9 247.65 L895.5 246.25 M904.25 233.75 L904.74 233.95 L905.22 234.29 L905.69 234.75 L906.16 235.3 L906.62 235.92 L907.07 236.59 L907.53 237.29 L908 238 L908.47 238.74 L908.95 239.56 L909.43 240.42 L909.91 241.33 L910.38 242.25 L910.85 243.19 L911.31 244.11 L911.75 245 M918 252.5 L918.45 251.68 L918.93 250.6 L919.44 249.31 L919.95 247.84 L920.46 246.26 L920.94 244.6 L921.37 242.92 L921.75 241.25 M923.5 226.25 L923.73 224.69 L923.97 223.26 L924.21 221.92 L924.45 220.62 L924.7 219.33 L924.96 217.99 L925.22 216.56 L925.5 215 M928 200 L928.74 197.28 L929.61 193.96 L930.6 190.33 L931.66 186.69 L932.76 183.33 L933.87 180.57 L934.96 178.69 L936 178 M948 217.5 L948.47 219.37 L948.92 221.22 L949.36 223.02 L949.8 224.72 L950.24 226.3 L950.71 227.73 L951.21 228.97 L951.75 230 M963 232.5 L963.58 233.48 L964.12 234.75 L964.63 236.25 L965.09 237.92 L965.53 239.69 L965.95 241.51 L966.36 243.3 L966.75 245 M969.25 258.75 L969.63 260.36 L970.03 261.9 L970.45 263.42 L970.88 264.92 L971.3 266.43 L971.72 267.98 L972.12 269.58 L972.5 271.25 M975 286.25 L975.44 287.96 L975.92 289.65 L976.43 291.31 L976.97 292.92 L977.52 294.48 L978.09 295.98 L978.67 297.41 L979.25 298.75 M981.87 303.9 L982.5 304.89 L983.15 305.78 L983.8 306.55 L984.46 307.2 L984.94 307.68 L985.29 308.01 L985.62 308.24 L986.03 308.38 L986.63 308.47 L986.89 308.5" fill="none" stroke="#19f019" stroke-width="3.3" stroke-linejoin="round" stroke-linecap="butt" clip-path="url(#cb2)"/>
<path d="M715 195C715.12 198.33 715.42 207.08 715.75 215C716.08 222.92 716.46 233.75 717 242.5C717.54 251.25 718.29 259.58 719 267.5C719.71 275.42 720.42 283.96 721.25 290C722.08 296.04 722.83 300.75 724 303.75C725.17 306.75 726.42 307.02 728.25 308C730.08 308.98 726.38 309.6 735 309.6C750 309.6 765 309.6 780 309.6C788.33 309.6 796.67 309.6 805 309.6C810.5 309.6 809.58 308.85 813 308C816.42 307.15 821.96 305.42 825.5 304.5C829.04 303.58 831.96 304.29 834.25 302.5C836.54 300.71 837.79 297.29 839.25 293.75C840.71 290.21 841.75 285 843 281.25C844.25 277.5 845.08 273.04 846.75 271.25C848.42 269.46 851.21 269.46 853 270.5C854.79 271.54 856.04 275.92 857.5 277.5C858.96 279.08 860.21 281.04 861.75 280C863.29 278.96 865.5 274.79 866.75 271.25C868 267.71 868.42 262.5 869.25 258.75C870.08 255 870.29 251.46 871.75 248.75C873.21 246.04 875.92 244.17 878 242.5C880.08 240.83 882.58 240.42 884.25 238.75C885.92 237.08 886.88 235.21 888 232.5C889.12 229.79 890.08 225.62 891 222.5C891.92 219.38 892.5 217.83 893.5 213.75C894.5 209.67 895.42 202.29 897 198C898.58 193.71 901 188 903 188C905 188 907.54 193.5 909 198C910.46 202.5 910.88 210.71 911.75 215C912.62 219.29 913.21 223.75 914.25 223.75C915.5 223.75 916.75 223.75 918 223.75C918.92 223.75 919.08 219.79 919.75 215C920.42 210.21 918.12 204.17 922 195C925.88 185.83 935.83 160 943 160C950.17 160 961.12 185.83 965 195C968.88 204.17 965.75 209.58 966.25 215C966.75 220.42 967.38 222.92 968 227.5C968.62 232.08 969.38 237.5 970 242.5C970.62 247.5 971.17 252.71 971.75 257.5C972.33 262.29 972.88 266.67 973.5 271.25C974.12 275.83 974.67 280.62 975.5 285C976.33 289.38 977.38 294.17 978.5 297.5C979.62 300.83 980.79 303.25 982.25 305C983.71 306.75 985.12 307.23 987.25 308C989.38 308.77 990.38 309.6 995 309.6C1001.67 309.6 1008.33 309.6 1015 309.6" fill="none" stroke="#000000" stroke-width="3.1" stroke-dasharray="0.01 6.9" stroke-dashoffset="0" stroke-linecap="round" clip-path="url(#cb2)"/>
<path d="M581.4 500C582.83 500.25 587.23 501.5 590 501.5C592.67 501.5 595.33 501.5 598 501.5C600.62 501.5 603.52 499.07 605.75 498.4C607.98 497.73 609.32 497.33 611.4 497.5C613.48 497.67 615.82 498.88 618.25 499.4C620.68 499.92 623.39 500.92 626 500.6C628.61 500.28 631.28 498.77 633.9 497.5C636.52 496.23 639.1 493 641.7 493C644.3 493 646.9 493 649.5 493C652.1 493 654.72 494.4 657.3 494.4C659.87 494.4 662.43 494.4 665 494.4C667.35 494.4 669.3 496.2 671.4 497.5C673.5 498.8 675.52 500.95 677.6 502.2C679.68 503.45 681.55 504.2 683.9 505C686.25 505.8 680.68 507 691.7 507C711.13 507 730.57 507 750 507C768.33 507 786.67 507 805 507C807.67 507 810.33 507 813 507C815.58 507 818.21 504.5 820.5 503.75C822.79 503 824.46 502.79 826.75 502.5C829.04 502.21 832.17 502.75 834.25 502C836.33 501.25 837.38 500.08 839.25 498C841.12 495.92 843.62 491.38 845.5 489.5C847.38 487.62 848.83 486.67 850.5 486.75C852.17 486.83 853.62 488.83 855.5 490C857.38 491.17 859.67 494.17 861.75 493.75C863.83 493.33 866.12 489.58 868 487.5C869.88 485.42 871.54 482.5 873 481.25C874.46 480 875.08 479.58 876.75 480C878.42 480.42 881.04 482.5 883 483.75C884.96 485 886.42 487.71 888.5 487.5C890.58 487.29 893.08 483.75 895.5 482.5C897.92 481.25 900.71 480 903 480C905.29 480 907.25 481.46 909.25 482.5C911.25 483.54 913.33 486.46 915 486.25C916.67 486.04 917.71 484.79 919.25 481.25C920.79 477.71 922.58 470.83 924.25 465C925.92 459.17 927.79 450.42 929.25 446.25C930.71 442.08 931.75 440.62 933 440C934.25 439.38 935.5 440.21 936.75 442.5C938 444.79 939.04 449.17 940.5 453.75C941.96 458.33 943.96 466.25 945.5 470C947.04 473.75 948.29 475.83 949.75 476.25C951.21 476.67 952.88 474.29 954.25 472.5C955.62 470.71 956.88 466.83 958 465.5C959.12 464.17 959.96 463.96 961 464.5C962.04 465.04 962.88 465.75 964.25 468.75C965.62 471.75 967.58 478.12 969.25 482.5C970.92 486.88 972.58 491.75 974.25 495C975.92 498.25 977.38 500.21 979.25 502C981.12 503.79 982.88 504.92 985.5 505.75C988.12 506.58 990.08 507 995 507C1001.67 507 1008.33 507 1015 507" fill="none" stroke="#ff0000" stroke-width="3.3" stroke-linejoin="round" stroke-linecap="butt" clip-path="url(#cb4)"/>
<path d="M581.4 479 L582.69 479 L583.98 479 L585.26 479 L586.55 479 L587.84 479 L589.12 479 L590.41 479 L591.7 479 M607.26 470.73 L607.93 470.76 L608.71 470.91 L609.63 471.23 L610.68 471.74 L611.82 472.39 L613.04 473.14 L614.29 473.95 L615.53 474.77 L616.75 475.57 L617.89 476.28 L618.25 476.5 M633.9 485 L635.14 485.64 L636.5 486.34 L637.93 487.08 L639.39 487.84 L640.85 488.59 L642.26 489.32 L643.59 489.99 L644.8 490.6 M660.4 497.8 L661.67 498.4 L663.02 499.06 L664.44 499.77 L665.89 500.48 L667.34 501.19 L668.76 501.86 L670.12 502.47 L671.4 503 M848 505.5 L849.8 505.48 L851.46 505.52 L853.01 505.61 L853.99 505.68 M870.5 505 L872.52 504.7 L874.87 504.35 L877.41 503.95 L880.05 503.52 L882.66 503.07 L885.14 502.62 L887.38 502.17 L889.25 501.75 M904.25 497 L905.5 497.19 L906.92 497.55 L908.43 498.02 L909.98 498.53 L911.53 499.04 L913 499.5 L914.34 499.83 L915.5 500 M929.25 488.75 L929.82 488.08 L930.39 487.34 L930.97 486.56 L931.56 485.77 L932.16 484.98 L932.77 484.24 L933.38 483.57 L934 483 L934.64 482.5 L935.29 482.05 L935.95 481.65 L936.62 481.3 L937.3 481 L937.96 480.77 L938.61 480.6 L939.25 480.5 M954.25 488.75 L955.03 488.75 L955.81 488.75 L956.59 488.75 L957.38 488.75 L958.16 488.75 L958.94 488.75 L959.72 488.75 L960.5 488.75 L961.28 488.89 L962.06 489.27 L962.84 489.84 L963.62 490.55 L964.41 491.34 L965.19 492.18 L965.97 493 L966.75 493.75 M978.16 503.99 L979.07 504.53 L980 505 L980.82 505.42 L981.48 505.8 L982.09 506.15 L982.75 506.44 L983.56 506.67 L984.64 506.85 L985.08 506.9" fill="none" stroke="#19f019" stroke-width="3.3" stroke-linejoin="round" stroke-linecap="butt" clip-path="url(#cb4)"/>
<path d="M581.4 467.2C582.83 467.3 587.5 468.33 590 467.8C592.5 467.27 594.3 465.4 596.4 464C598.5 462.6 600.78 460.69 602.6 459.4C604.42 458.11 605.48 456.52 607.3 456.25C609.12 455.98 611.42 456.39 613.5 457.8C615.58 459.21 617.88 462.62 619.8 464.7C621.72 466.78 622.92 469.25 625 470.3C627.08 471.35 630.05 471.1 632.3 471C634.55 470.9 636.42 469.4 638.5 469.7C640.58 470 642.72 471.67 644.8 472.8C646.88 473.93 648.92 475.25 651 476.5C653.08 477.75 654.97 478.63 657.3 480.3C659.63 481.97 662.65 484.52 665 486.5C667.35 488.48 669.3 490.22 671.4 492.2C673.5 494.18 675.52 496.6 677.6 498.4C679.68 500.2 681.83 501.85 683.9 503C685.97 504.15 687.92 504.63 690 505.3C692.08 505.97 686.4 507 696.4 507C714.27 507 732.13 507 750 507C768.33 507 786.67 507 805 507C807.67 507 810.33 507 813 507C816.21 507 820.71 503.46 824.25 502.5C827.79 501.54 831.75 502.17 834.25 501.25C836.75 500.33 837.58 498.96 839.25 497C840.92 495.04 842.38 491.38 844.25 489.5C846.12 487.62 848.62 485.88 850.5 485.75C852.38 485.62 853.62 487.62 855.5 488.75C857.38 489.88 859.88 492.71 861.75 492.5C863.62 492.29 865.08 489.67 866.75 487.5C868.42 485.33 869.88 481.08 871.75 479.5C873.62 477.92 875.92 477.71 878 478C880.08 478.29 882.17 480.92 884.25 481.25C886.33 481.58 888.42 481.25 890.5 480C892.58 478.75 894.46 475.42 896.75 473.75C899.04 472.08 901.96 469.79 904.25 470C906.54 470.21 908.62 473.54 910.5 475C912.38 476.46 914.04 479.38 915.5 478.75C916.96 478.12 918 474.79 919.25 471.25C920.5 467.71 921.88 462.29 923 457.5C924.12 452.71 924.96 447.5 926 442.5C927.04 437.5 928.08 431.46 929.25 427.5C930.42 423.54 931.54 418.75 933 418.75C934.67 418.75 936.33 418.75 938 418.75C939.46 418.75 940.5 425.62 941.75 430C943 434.38 944.25 440.62 945.5 445C946.75 449.38 947.79 455 949.25 456.25C950.71 457.5 952.58 454.17 954.25 452.5C955.92 450.83 957.71 446.67 959.25 446.25C960.79 445.83 962.25 447.5 963.5 450C964.75 452.5 965.67 457.08 966.75 461.25C967.83 465.42 968.88 470.42 970 475C971.12 479.58 972.17 484.79 973.5 488.75C974.83 492.71 976.42 496.25 978 498.75C979.58 501.25 981.33 502.58 983 503.75C984.67 504.92 985.83 505.21 988 505.75C990.17 506.29 991.5 507 996 507C1002.33 507 1008.67 507 1015 507" fill="none" stroke="#000000" stroke-width="3.1" stroke-dasharray="0.01 6.9" stroke-dashoffset="0" stroke-linecap="round" clip-path="url(#cb4)"/>
<line x1="581.5" y1="111.4" x2="1015" y2="111.4" stroke="#000" stroke-width="1.9"/>
<line x1="581.5" y1="309.3" x2="1015" y2="309.3" stroke="#111" stroke-width="1.4"/>
<line x1="581.5" y1="13.2" x2="581.5" y2="506.7" stroke="#1a1a1a" stroke-width="1.25"/>
<line x1="1015" y1="13.2" x2="1015" y2="506.7" stroke="#1a1a1a" stroke-width="1.25"/>
<line x1="608" y1="601.75" x2="608" y2="1090.2" stroke="#808080" stroke-width="3" stroke-dasharray="0.01 9" stroke-linecap="round"/>
<rect x="319" y="596.75" width="432.75" height="493.45" fill="none" stroke="#1a1a1a" stroke-width="1.25"/>
<line x1="319" y1="793.4" x2="751.75" y2="793.4" stroke="#000" stroke-width="1.4"/>
<line x1="315" y1="991.3" x2="751.75" y2="991.3" stroke="#8a8a8a" stroke-width="1.7"/>
<path d="M319 661.25C320.08 660.92 323.33 659.88 325.5 659.25C327.67 658.62 329.88 658.33 332 657.5C334.12 656.67 336.21 655.83 338.25 654.25C340.29 652.67 342.21 650.08 344.25 648C346.29 645.92 348.38 643 350.5 641.75C352.62 640.5 354.88 640.79 357 640.5C359.12 640.21 361.17 640.96 363.25 640C365.33 639.04 367.54 636.75 369.5 634.75C371.46 632.75 373.04 630.08 375 628C376.96 625.92 379.25 624.21 381.25 622.25C383.25 620.29 385.12 618.42 387 616.25C388.88 614.08 390.67 611.38 392.5 609.25C394.33 607.12 396 604.12 398 603.5C400 602.88 402.71 604 404.5 605.5C406.29 607 407.71 610.21 408.75 612.5C409.79 614.79 410 617 410.75 619.25C411.5 621.5 412.33 623.79 413.25 626C414.17 628.21 415.25 630.29 416.25 632.5C417.25 634.71 418.33 637.08 419.25 639.25C420.17 641.42 420.88 643.33 421.75 645.5C422.62 647.67 423.54 650.04 424.5 652.25C425.46 654.46 426.5 656.54 427.5 658.75C428.5 660.96 429.46 663.33 430.5 665.5C431.54 667.67 432.58 669.67 433.75 671.75C434.92 673.83 436.17 675.83 437.5 678C438.83 680.17 440.21 682.67 441.75 684.75C443.29 686.83 444.83 689 446.75 690.5C448.67 692 450.71 692.95 453.25 693.75C455.79 694.55 450.88 695.3 462 695.3C481.33 695.3 500.67 695.3 520 695.3C535.5 695.3 544.17 694.13 555 693.75C565.83 693.37 576.67 693.25 585 693C593.33 692.75 600 692.58 605 692.25C610 691.92 611.25 691.38 615 691C618.75 690.62 624.17 690.38 627.5 690C630.83 689.62 632.71 689 635 688.75C637.29 688.5 639.17 688.33 641.25 688.5C643.33 688.67 645.33 689.5 647.5 689.75C649.67 690 652.04 690.38 654.25 690C656.46 689.62 658.54 688.58 660.75 687.5C662.96 686.42 665.33 684.38 667.5 683.5C669.67 682.62 671.67 682.12 673.75 682.25C675.83 682.38 677.79 683.38 680 684.25C682.21 685.12 684.71 686.79 687 687.5C689.29 688.21 691.58 688.29 693.75 688.5C695.92 688.71 697.83 688.33 700 688.75C702.17 689.17 704.46 690.29 706.75 691C709.04 691.71 711.21 692.28 713.75 693C716.29 693.72 715.67 695.3 722 695.3C731.92 695.3 741.83 695.3 751.75 695.3" fill="none" stroke="#000000" stroke-width="3.1" stroke-dasharray="0.01 6.9" stroke-dashoffset="0" stroke-linecap="round" clip-path="url(#cc0)"/>
<path d="M319 713C320.42 714.67 324.83 720.08 327.5 723C330.17 725.92 333.12 729.04 335 730.5C336.88 731.96 336.67 732.17 338.75 731.75C340.83 731.33 345 727.79 347.5 728C350 728.21 351.46 731 353.75 733C356.04 735 359.17 740 361.25 740C362.92 740 364.58 740 366.25 740C368.54 740 372.29 735.5 375 734.75C377.71 734 380.21 734.75 382.5 735.5C384.79 736.25 386.25 739.25 388.75 739.25C391.67 739.25 394.58 739.25 397.5 739.25C400 739.25 401.67 743 403.75 745.5C405.83 748 407.92 751.54 410 754.25C412.08 756.96 414.38 758.83 416.25 761.75C418.12 764.67 419.58 768.42 421.25 771.75C422.92 775.08 424.58 778.83 426.25 781.75C427.92 784.67 429.58 787.46 431.25 789.25C432.92 791.04 433.96 791.76 436.25 792.5C438.54 793.24 434.38 793.7 445 793.7C463.33 793.7 481.67 793.7 500 793.7C513.33 793.7 526.67 793.7 540 793.7C542.5 793.7 545 793.7 547.5 793.7C550 793.7 552.71 790.83 555 789.75C557.29 788.67 558.75 787.75 561.25 787.25C563.75 786.75 567.71 787.88 570 786.75C572.29 785.62 573.12 784.04 575 780.5C576.88 776.96 579.38 768.75 581.25 765.5C583.12 762.25 584.58 761 586.25 761C587.92 761 589.17 763.08 591.25 765.5C593.33 767.92 596.46 775.29 598.75 775.5C601.04 775.71 603.12 769.67 605 766.75C606.88 763.83 608.33 759.96 610 758C611.67 756.04 613.12 755.62 615 755C616.88 754.38 619.17 755.62 621.25 754.25C623.33 752.88 625.42 749.67 627.5 746.75C629.58 743.83 631.88 738.92 633.75 736.75C635.62 734.58 637.29 733.75 638.75 733.75C640.21 733.75 641.04 734.38 642.5 736.75C643.96 739.12 645.83 744.96 647.5 748C649.17 751.04 651.04 754.58 652.5 755C653.96 755.42 655.08 753.75 656.25 750.5C657.42 747.25 658.46 741.33 659.5 735.5C660.54 729.67 661.5 722.17 662.5 715.5C663.5 708.83 664.58 701.75 665.5 695.5C666.42 689.25 666.25 683.25 668 678C669.75 672.75 673.33 664 676 664C678.67 664 682.29 672.75 684 678C685.71 683.25 685.46 690.92 686.25 695.5C687.04 700.08 687.71 702.58 688.75 705.5C689.79 708.42 691.04 710.5 692.5 713C693.96 715.5 696.04 717.38 697.5 720.5C698.96 723.62 700 726.75 701.25 731.75C702.5 736.75 703.75 744.25 705 750.5C706.25 756.75 707.5 764.04 708.75 769.25C710 774.46 711.25 778.42 712.5 781.75C713.75 785.08 714.79 787.46 716.25 789.25C717.71 791.04 719.29 791.76 721.25 792.5C723.21 793.24 722.92 793.7 728 793.7C735.92 793.7 743.83 793.7 751.75 793.7" fill="none" stroke="#ff0000" stroke-width="3.3" stroke-linejoin="round" stroke-linecap="butt" clip-path="url(#cc1)"/>
<path d="M319 745.5 L319.68 744.6 L320.6 743.37 L321.7 741.91 L322.91 740.3 L324.16 738.63 L325.39 737.01 L326.52 735.52 L327.5 734.25 M338.75 720.5 L339.52 719.3 L340.31 718.01 L341.11 716.64 L341.92 715.2 L342.73 713.73 L343.51 712.23 L344.28 710.73 L345 709.25" fill="none" stroke="#19f019" stroke-width="3.3" stroke-linejoin="round" stroke-linecap="butt" clip-path="url(#cc1)"/>
<path d="M407 678 L407.23 679.37 L407.54 681.2 L407.91 683.39 L408.31 685.81 L408.74 688.35 L409.18 690.89 L409.6 693.31 L410 695.5 L410.25 696.85 M413 710.5 L413.39 712.06 L413.79 713.49 L414.2 714.83 L414.61 716.12 L415.02 717.42 L415.43 718.76 L415.84 720.19 L416.25 721.75 M419.5 736.75 L419.99 738.42 L420.5 739.99 L421.04 741.51 L421.59 743 L422.15 744.49 L422.7 746.01 L423.24 747.58 L423.75 749.25 M427.5 764.25 L428.11 765.86 L428.76 767.41 L429.46 768.91 L430.17 770.34 L430.9 771.72 L431.62 773.04 L432.32 774.3 L433 775.5 M442.5 789.25 L443.29 789.81 L444.15 790.32 L445.07 790.78 L446.03 791.19 L447.02 791.56 L448.02 791.9 L449.02 792.21 L450 792.5 M576.25 790 L577.56 789.4 L579.01 788.68 L580.55 787.88 L582.11 787.03 L583.64 786.2 L585.09 785.43 L586.4 784.77 L587.5 784.25 M602.5 783 L603.11 782.57 L603.7 782.03 L604.27 781.42 L604.83 780.75 L605.37 780.05 L605.92 779.34 L606.46 778.65 L607 778 L607.55 777.36 L608.09 776.69 L608.63 776.02 L609.17 775.34 L609.7 774.69 L610.23 774.07 L610.74 773.51 L611.25 773 M615 770.5 L616.09 769.92 L617.44 769.27 L618.96 768.56 L620.56 767.8 L622.18 766.98 L623.72 766.11 L625.1 765.2 L626.25 764.25 M635 748 L635.53 747.42 L636.07 746.89 L636.61 746.43 L637.16 746.03 L637.72 745.73 L638.29 745.53 L638.89 745.45 L639.5 745.5 L640.14 745.72 L640.82 746.1 L641.51 746.61 L642.22 747.22 L642.93 747.9 L643.64 748.61 L644.33 749.32 L645 750 M656.25 755.5 L656.64 754.55 L657.05 753.4 L657.48 752.07 L657.91 750.61 L658.33 749.06 L658.75 747.46 L659.14 745.84 L659.5 744.25 M661.75 730.5 L662.15 728.87 L662.59 727.28 L663.06 725.7 L663.55 724.14 L664.05 722.6 L664.54 721.06 L665.03 719.53 L665.5 718 M672.5 704.25 L673.17 704.9 L673.94 705.81 L674.77 706.92 L675.64 708.2 L676.51 709.62 L677.33 711.12 L678.09 712.68 L678.75 714.25 M682 729.25 L682.53 730.9 L683.1 732.53 L683.7 734.13 L684.33 735.66 L684.97 737.09 L685.64 738.39 L686.32 739.54 L687 740.5 M700 741.75 L700.7 742.65 L701.35 743.88 L701.96 745.38 L702.53 747.06 L703.07 748.87 L703.57 750.71 L704.05 752.53 L704.5 754.25 M707 768 L707.44 769.53 L707.92 770.99 L708.43 772.4 L708.97 773.78 L709.52 775.14 L710.09 776.5 L710.67 777.86 L711.25 779.25 M713.87 785.89 L714.5 787.35 L715.15 788.68 L715.8 789.84 L716.46 790.79 L716.89 791.57 L716.99 791.8" fill="none" stroke="#19f019" stroke-width="3.3" stroke-linejoin="round" stroke-linecap="butt" clip-path="url(#cc1)"/>
<path d="M421 678C421.46 680.92 422.67 689.67 423.75 695.5C424.83 701.33 426.25 707.17 427.5 713C428.75 718.83 430 724.88 431.25 730.5C432.5 736.12 433.75 741.54 435 746.75C436.25 751.96 437.5 757.17 438.75 761.75C440 766.33 441.25 770.5 442.5 774.25C443.75 778 445 781.62 446.25 784.25C447.5 786.88 448.54 788.42 450 790C451.46 791.58 453 793.7 455 793.7C457.33 793.7 459.67 793.7 462 793.7C558.58 793.7 655.17 793.7 751.75 793.7" fill="none" stroke="#0000ff" stroke-width="3.3" stroke-linejoin="round" stroke-linecap="butt" clip-path="url(#cc1)"/>
<path d="M428.5 678C428.88 681.33 430 691.75 430.75 698C431.5 704.25 432.17 709.25 433 715.5C433.83 721.75 434.79 729.25 435.75 735.5C436.71 741.75 437.62 747.17 438.75 753C439.88 758.83 441.25 765.5 442.5 770.5C443.75 775.5 445 779.67 446.25 783C447.5 786.33 448.75 788.72 450 790.5C451.25 792.28 451.75 793.7 453.75 793.7C456.5 793.7 459.25 793.7 462 793.7C488 793.7 514 793.7 540 793.7" fill="none" stroke="#000000" stroke-width="3.1" stroke-dasharray="0.01 6.9" stroke-dashoffset="0" stroke-linecap="round" clip-path="url(#cc1)"/>
<path d="M540 793.7C542.5 793.7 545 793.7 547.5 793.7C550.83 793.7 556.25 788.87 560 787.5C563.75 786.13 567.5 787.29 570 785.5C572.5 783.71 573.54 780.08 575 776.75C576.46 773.42 577.38 768.96 578.75 765.5C580.12 762.04 581.58 758.08 583.25 756C584.92 753.92 587 752.46 588.75 753C590.5 753.54 592.08 757.08 593.75 759.25C595.42 761.42 597.29 765.38 598.75 766C600.21 766.62 601.33 764.96 602.5 763C603.67 761.04 604.79 757.79 605.75 754.25C606.71 750.71 607.12 745.08 608.25 741.75C609.38 738.42 610.54 736.75 612.5 734.25C614.46 731.75 617.83 729.46 620 726.75C622.17 724.04 623.92 721.33 625.5 718C627.08 714.67 628.42 710.08 629.5 706.75C630.58 703.42 631.08 701.96 632 698C632.92 694.04 633.83 686.67 635 683C636.17 679.33 637.67 676 639 676C640.33 676 641.88 679.33 643 683C644.12 686.67 644.88 693.62 645.75 698C646.62 702.38 647.21 705.5 648.25 709.25C649.29 713 650.88 719.04 652 720.5C653.12 721.96 654.08 720.5 655 718C655.92 715.5 656.79 709.04 657.5 705.5C658.21 701.96 658.67 701.33 659.25 696.75C659.83 692.17 657.54 684.96 661 678C664.46 671.04 673.17 655 680 655C686.83 655 698.12 670.83 702 678C705.88 685.17 702.83 692.58 703.25 698C703.67 703.42 703.96 705.5 704.5 710.5C705.04 715.5 705.79 722.17 706.5 728C707.21 733.83 707.96 739.67 708.75 745.5C709.54 751.33 710.29 757.58 711.25 763C712.21 768.42 713.38 773.83 714.5 778C715.62 782.17 716.67 785.58 718 788C719.33 790.42 720.5 791.55 722.5 792.5C724.5 793.45 725.12 793.7 730 793.7C737.25 793.7 744.5 793.7 751.75 793.7" fill="none" stroke="#000000" stroke-width="3.1" stroke-dasharray="0.01 6.9" stroke-dashoffset="0" stroke-linecap="round" clip-path="url(#cc1)"/>
<path d="M319 812.25C320.21 813.21 323.79 815.38 326.25 818C328.71 820.62 331.46 825.38 333.75 828C336.04 830.62 337.5 832.58 340 833.75C342.5 834.92 346.25 833.96 348.75 835C351.25 836.04 352.92 837.83 355 840C357.08 842.17 359.17 845.83 361.25 848C363.33 850.17 365 851.75 367.5 853C370 854.25 373.54 854.04 376.25 855.5C378.96 856.96 381.25 859.67 383.75 861.75C386.25 863.83 388.75 866.21 391.25 868C393.75 869.79 396.25 870.75 398.75 872.5C401.25 874.25 403.75 876.83 406.25 878.5C408.75 880.17 411.25 881.33 413.75 882.5C416.25 883.67 418.96 884.38 421.25 885.5C423.54 886.62 425.42 888.29 427.5 889.25C429.58 890.21 431.25 890.66 433.75 891.25C436.25 891.84 431.46 892.8 442.5 892.8C461.67 892.8 480.83 892.8 500 892.8C513.33 892.8 526.67 892.8 540 892.8C547.92 892.8 544.17 892.34 547.5 891.75C550.83 891.16 556.25 889.88 560 889.25C563.75 888.62 567.42 889.25 570 888C572.58 886.75 573.62 884.04 575.5 881.75C577.38 879.46 579.46 875.79 581.25 874.25C583.04 872.71 584.58 872.21 586.25 872.5C587.92 872.79 589.17 874.58 591.25 876C593.33 877.42 596.54 881.08 598.75 881C600.96 880.92 602.62 877.46 604.5 875.5C606.38 873.54 608.25 870.58 610 869.25C611.75 867.92 613.12 868 615 867.5C616.88 867 619.17 867.42 621.25 866.25C623.33 865.08 625.42 862.62 627.5 860.5C629.58 858.38 631.88 854.83 633.75 853.5C635.62 852.17 637.08 851.96 638.75 852.5C640.42 853.04 642.08 854.88 643.75 856.75C645.42 858.62 647.17 862.08 648.75 863.75C650.33 865.42 651.88 866.96 653.25 866.75C654.62 866.54 655.67 865.83 657 862.5C658.33 859.17 659.71 852.29 661.25 846.75C662.79 841.21 664.79 833.42 666.25 829.25C667.71 825.08 668.75 823.29 670 821.75C671.25 820.21 672.42 819.46 673.75 820C675.08 820.54 676.62 822 678 825C679.38 828 680.71 833.75 682 838C683.29 842.25 684.5 847.5 685.75 850.5C687 853.5 687.96 854.83 689.5 856C691.04 857.17 693.25 856.54 695 857.5C696.75 858.46 698.33 859.38 700 861.75C701.67 864.12 703.33 868.29 705 871.75C706.67 875.21 708.33 879.67 710 882.5C711.67 885.33 713.12 887.21 715 888.75C716.88 890.29 718.75 891.08 721.25 891.75C723.75 892.42 724.92 892.8 730 892.8C737.25 892.8 744.5 892.8 751.75 892.8" fill="none" stroke="#ff0000" stroke-width="3.3" stroke-linejoin="round" stroke-linecap="butt" clip-path="url(#cc2)"/>
<path d="M450.5 778 L450.55 779.2 L450.62 780.74 L450.7 782.57 L450.8 784.64 L450.9 786.89 L451.01 789.28 L451.13 791.75 L451.25 794.25 L451.38 796.85 M452.12 810.76 L452.29 813.88 L452.45 816.98 L452.6 820.05 L452.75 823.17 M453.4 836.9 L453.57 839.99 L453.75 843 L453.94 845.98 L454.15 848.98 L454.29 850.96 M455.5 865.5 L455.73 867.78 L455.94 869.92 L456.15 871.95 L456.38 873.86 L456.45 874.47 M462.02 890.67 L462.26 891.27 L462.58 891.79 L463.12 892.22 L464.03 892.53 L465.45 892.73 L467.5 892.8 L470.21 892.8 M576.25 881.75 L577.09 881.02 L577.87 880.34 L578.6 879.7 L579.3 879.09 L579.97 878.52 L580.64 877.99 L581.31 877.48 L582 877 L582.71 876.53 L583.42 876.07 L584.12 875.62 L584.83 875.22 L585.52 874.86 L586.2 874.57 L586.86 874.36 L587.5 874.25 M602.5 874.25 L603.25 873.06 L604.01 871.58 L604.79 869.91 L605.58 868.12 L606.37 866.33 L607.17 864.61 L607.96 863.05 L608.75 861.75 M622.5 851.75 L623.25 850.77 L623.96 849.65 L624.62 848.41 L625.25 847.09 L625.84 845.73 L626.41 844.37 L626.96 843.03 L627.5 841.75 M635 825.5 L635.53 824.9 L636.07 824.3 L636.61 823.75 L637.16 823.25 L637.72 822.85 L638.29 822.57 L638.89 822.44 L639.5 822.5 L640.15 822.75 L640.84 823.17 L641.56 823.74 L642.28 824.44 L643 825.23 L643.71 826.11 L644.38 827.04 L645 828 M652.5 844.25 L652.86 844.4 L653.2 844.38 L653.51 844.22 L653.81 843.92 L654.11 843.53 L654.4 843.06 L654.69 842.54 L655 842 L655.32 841.45 L655.64 840.87 L655.96 840.25 L656.28 839.55 L656.6 838.75 L656.91 837.82 L657.21 836.75 L657.5 835.5 M659.5 820.5 L659.77 818.84 L660.04 817.28 L660.33 815.78 L660.61 814.31 L660.9 812.83 L661.18 811.31 L661.47 809.71 L661.75 808 M664 792 L664.72 789.3 L665.6 786.12 L666.58 782.7 L667.64 779.25 L668.75 776.02 L669.87 773.25 L670.96 771.16 L672 770 M682.5 795.5 L682.8 797.34 L683.07 799.26 L683.33 801.23 L683.59 803.22 L683.88 805.18 L684.2 807.07 L684.57 808.85 L685 810.5 L685.5 812.07 L686.04 813.64 L686.64 815.17 L687.27 816.59 L687.92 817.89 L688.6 819 L689.3 819.88 L690 820.5 L690.75 820.73 L691.56 820.55 L692.41 820.1 L693.27 819.5 L694.11 818.86 L694.9 818.32 L695.63 817.99 L696.25 818 M701.25 833 L701.66 834.49 L702.11 836.1 L702.6 837.81 L703.11 839.58 L703.62 841.39 L704.12 843.2 L704.58 845 L705 846.75 M707.5 860.5 L707.92 862.04 L708.37 863.54 L708.86 864.99 L709.36 866.41 L709.86 867.79 L710.35 869.14 L710.82 870.46 L711.25 871.75 M714.37 882 L714.73 882.98 L715.08 883.93 L715.45 884.84 L715.86 885.71 L716.33 886.53 L716.87 887.3 L717.5 888 L718.25 888.64 L719.11 889.23" fill="none" stroke="#19f019" stroke-width="3.3" stroke-linejoin="round" stroke-linecap="butt" clip-path="url(#cc2)"/>
<path d="M450.5 778C450.62 780.71 450.92 787.58 451.25 794.25C451.58 800.92 452.08 809.88 452.5 818C452.92 826.12 453.25 835.08 453.75 843C454.25 850.92 454.88 859.25 455.5 865.5C456.12 871.75 456.54 876.54 457.5 880.5C458.46 884.46 459.58 887.2 461.25 889.25C462.92 891.3 461.04 892.8 467.5 892.8C478.33 892.8 489.17 892.8 500 892.8C513.33 892.8 526.67 892.8 540 892.8C547.92 892.8 543.75 892.55 547.5 891.75C551.25 890.95 558.75 888.92 562.5 888C566.25 887.08 568 887.5 570 886.25C572 885 573.17 883.12 574.5 880.5C575.83 877.88 576.75 873.83 578 870.5C579.25 867.17 580.62 863.21 582 860.5C583.38 857.79 584.71 854.46 586.25 854.25C587.79 854.04 589.67 857.29 591.25 859.25C592.83 861.21 594.21 865.17 595.75 866C597.29 866.83 599.04 866 600.5 864.25C601.96 862.5 603.33 858.83 604.5 855.5C605.67 852.17 606.46 847.79 607.5 844.25C608.54 840.71 609.08 836.96 610.75 834.25C612.42 831.54 615.33 829.88 617.5 828C619.67 826.12 622.08 825.5 623.75 823C625.42 820.5 626.38 816.33 627.5 813C628.62 809.67 629.67 805.71 630.5 803C631.33 800.29 631.75 800.25 632.5 796.75C633.25 793.25 633.75 785.96 635 782C636.25 778.04 638.42 773 640 773C641.58 773 643.46 777.83 644.5 782C645.54 786.17 645.54 793.67 646.25 798C646.96 802.33 647.71 804.88 648.75 808C649.79 811.12 651.38 816.12 652.5 816.75C653.62 817.38 654.67 814.25 655.5 811.75C656.33 809.25 657 804.25 657.5 801.75C658 799.25 658.08 800.71 658.5 796.75C658.92 792.79 656.42 786.62 660 778C663.58 769.38 673.42 745 680 745C686.58 745 696.08 769.38 699.5 778C702.92 786.62 700.08 791.75 700.5 796.75C700.92 801.75 701.42 803.62 702 808C702.58 812.38 703.29 818 704 823C704.71 828 705.54 833 706.25 838C706.96 843 707.54 848.21 708.25 853C708.96 857.79 709.67 862.58 710.5 866.75C711.33 870.92 712.17 874.67 713.25 878C714.33 881.33 715.46 884.58 717 886.75C718.54 888.92 720.33 889.99 722.5 891C724.67 892.01 725.12 892.8 730 892.8C737.25 892.8 744.5 892.8 751.75 892.8" fill="none" stroke="#000000" stroke-width="3.1" stroke-dasharray="0.01 6.9" stroke-dashoffset="0" stroke-linecap="round" clip-path="url(#cc2)"/>
<path d="M319 954.75C320.21 955.5 323.79 958.21 326.25 959.25C328.71 960.29 331.46 961.46 333.75 961C336.04 960.54 338.12 957.42 340 956.5C341.88 955.58 343.12 954.88 345 955.5C346.88 956.12 348.96 958.29 351.25 960.25C353.54 962.21 356.04 965.75 358.75 967.25C361.46 968.75 364.79 968.33 367.5 969.25C370.21 970.17 372.29 971.29 375 972.75C377.71 974.21 380.83 976.62 383.75 978C386.67 979.38 389.79 979.96 392.5 981C395.21 982.04 397.5 983.21 400 984.25C402.5 985.29 404.58 986.62 407.5 987.25C410.42 987.88 414.58 987.58 417.5 988C420.42 988.42 422.08 989.33 425 989.75C427.92 990.17 424.17 990.19 435 990.5C445.83 990.81 472.83 991.6 490 991.6C506 991.6 522 991.6 538 991.6C540.33 991.6 542.67 991.6 545 991.6C547.83 991.6 551.88 989.31 555 988.5C558.12 987.69 561.04 987.17 563.75 986.75C566.46 986.33 569.17 986.96 571.25 986C573.33 985.04 574.38 983.29 576.25 981C578.12 978.71 580.62 974.21 582.5 972.25C584.38 970.29 585.62 968.83 587.5 969.25C589.38 969.67 591.75 973.12 593.75 974.75C595.75 976.38 597.62 979.29 599.5 979C601.38 978.71 603.04 975.04 605 973C606.96 970.96 609.17 967.92 611.25 966.75C613.33 965.58 615.21 966 617.5 966C620 966 622.5 966 625 966C627.5 966 630.21 963.08 632.5 962.25C634.79 961.42 636.88 960.71 638.75 961C640.62 961.29 641.88 962.12 643.75 964C645.62 965.88 648.12 970.25 650 972.25C651.88 974.25 653.33 975.58 655 976C656.67 976.42 657.92 975.58 660 974.75C662.08 973.92 665 971 667.5 971C670 971 672.5 971 675 971C677.29 971 679.17 973.29 681.25 974.75C683.33 976.21 685.42 978.42 687.5 979.75C689.58 981.08 691.46 982 693.75 982.75C696.04 983.5 698.96 983.42 701.25 984.25C703.54 985.08 705.42 986.71 707.5 987.75C709.58 988.79 711.67 989.86 713.75 990.5C715.83 991.14 713.67 991.6 720 991.6C730.58 991.6 741.17 991.6 751.75 991.6" fill="none" stroke="#ff0000" stroke-width="3.3" stroke-linejoin="round" stroke-linecap="butt" clip-path="url(#cc3)"/>
<path d="M376.25 899.75 L376.79 901.54 L377.28 903.07 L377.74 904.43 L378.19 905.67 L378.62 906.88 L379.06 908.12 L379.52 909.47 L380 911 M384.25 926 L384.86 927.61 L385.51 929.16 L386.18 930.65 L386.86 932.08 L387.54 933.45 L388.22 934.77 L388.87 936.04 L389.5 937.25 M399.5 952.25 L400.28 953.49 L401.1 954.87 L401.94 956.34 L402.8 957.86 L403.66 959.38 L404.53 960.86 L405.4 962.25 L406.25 963.5 M420 977.25 L421.23 978.26 L422.6 979.4 L424.06 980.6 L425.58 981.83 L427.1 983.03 L428.58 984.16 L429.98 985.16 L431.25 986 M445.08 990.19 L446.24 990.34 L447.5 990.5 L448.68 990.67 L449.7 990.85 L450.69 991.04 L451.78 991.21 M580 990.5 L581.26 990.39 L582.55 990.29 L583.84 990.19 L585.12 990.1 L586.4 990.02 L587.64 989.93 L588.85 989.84 L590 989.75 M606.25 986 L607.31 985.63 L608.37 985.27 L609.44 984.92 L610.52 984.56 L611.61 984.2 L612.71 983.82 L613.84 983.42 L615 983 L616.2 982.57 L617.46 982.14 L618.75 981.71 L620.05 981.25 L621.34 980.76 L622.61 980.23 L623.84 979.65 L625 979 M640 967.25 L640.8 967.18 L641.59 967.28 L642.36 967.5 L643.11 967.83 L643.85 968.22 L644.58 968.65 L645.29 969.09 L646 969.5 L646.7 969.96 L647.4 970.53 L648.09 971.16 L648.77 971.8 L649.42 972.4 L650.06 972.92 L650.67 973.3 L651.25 973.5 M659.25 958.5 L659.7 957.07 L660.12 955.72 L660.52 954.41 L660.91 953.11 L661.29 951.78 L661.68 950.38 L662.08 948.89 L662.5 947.25 M666.25 931 L666.65 929.42 L667.02 927.97 L667.38 926.62 L667.72 925.36 L668.07 924.18 L668.43 923.07 L668.82 922.02 L669.25 921 M678 919.75 L678.56 920.9 L679.1 922.3 L679.64 923.86 L680.19 925.48 L680.74 927.1 L681.3 928.62 L681.89 929.94 L682.5 931 M695 926 L695.63 925.78 L696.2 925.8 L696.7 926 L697.16 926.36 L697.58 926.83 L697.98 927.37 L698.36 927.94 L698.75 928.5 L699.12 929.05 L699.46 929.62 L699.78 930.24 L700.08 930.92 L700.37 931.69 L700.65 932.57 L700.95 933.58 L701.25 934.75 M703.75 948.5 L704.17 950.1 L704.63 951.62 L705.12 953.11 L705.62 954.59 L706.13 956.09 L706.62 957.64 L707.08 959.27 L707.5 961 M710 977.25 L710.6 978.95 L711.29 980.61 L712.05 982.19 L712.86 983.7 L713.7 985.1 L714.56 986.38 L715.42 987.52 L716.25 988.5" fill="none" stroke="#19f019" stroke-width="3.3" stroke-linejoin="round" stroke-linecap="butt" clip-path="url(#cc3)"/>
<path d="M376 880C376.58 882.46 378.62 891.25 379.5 894.75C380.38 898.25 380.54 898.5 381.25 901C381.96 903.5 382.71 906.83 383.75 909.75C384.79 912.67 386.33 915.58 387.5 918.5C388.67 921.42 389.5 924.33 390.75 927.25C392 930.17 393.67 933.08 395 936C396.33 938.92 397.42 941.83 398.75 944.75C400.08 947.67 401.54 950.79 403 953.5C404.46 956.21 405.92 958.71 407.5 961C409.08 963.29 410.71 965.17 412.5 967.25C414.29 969.33 416.25 971.42 418.25 973.5C420.25 975.58 422.33 977.88 424.5 979.75C426.67 981.62 429.08 983.29 431.25 984.75C433.42 986.21 435.42 987.58 437.5 988.5C439.58 989.42 441.46 989.73 443.75 990.25C446.04 990.77 441.88 991.6 451.25 991.6C467.5 991.6 483.75 991.6 500 991.6C512.67 991.6 525.33 991.6 538 991.6C540.33 991.6 542.67 991.6 545 991.6C548.67 991.6 555.83 988.27 560 987.25C564.17 986.23 567.42 986.75 570 985.5C572.58 984.25 573.83 981.75 575.5 979.75C577.17 977.75 578.5 975.17 580 973.5C581.5 971.83 582.92 970.58 584.5 969.75C586.08 968.92 587.83 967.79 589.5 968.5C591.17 969.21 592.83 972.42 594.5 974C596.17 975.58 597.83 978.29 599.5 978C601.17 977.71 603.08 974.88 604.5 972.25C605.92 969.62 606.46 964.75 608 962.25C609.54 959.75 611.54 958.5 613.75 957.25C615.96 956 619.04 956 621.25 954.75C623.46 953.5 625.12 951.83 627 949.75C628.88 947.67 630.75 944.12 632.5 942.25C634.25 940.38 635.62 938.71 637.5 938.5C639.38 938.29 642.17 939.42 643.75 941C645.33 942.58 645.75 945.92 647 948C648.25 950.08 649.71 953.5 651.25 953.5C652.92 953.5 654.58 953.5 656.25 953.5C657.58 953.5 658.42 948.92 659.25 946C660.08 943.08 660.5 939.75 661.25 936C662 932.25 662.92 927.67 663.75 923.5C664.58 919.33 665.42 914.75 666.25 911C667.08 907.25 667.79 903.71 668.75 901C669.71 898.29 670.75 894.75 672 894.75C673.42 894.75 674.83 894.75 676.25 894.75C677.5 894.75 678.46 899.12 679.5 902.25C680.54 905.38 681.38 910.38 682.5 913.5C683.62 916.62 684.79 921 686.25 921C687.92 921 689.58 921 691.25 921C692.92 921 694.79 917.58 696.25 918C697.71 918.42 698.96 920.92 700 923.5C701.04 926.08 701.75 929.96 702.5 933.5C703.25 937.04 703.75 940.79 704.5 944.75C705.25 948.71 706.21 953.08 707 957.25C707.79 961.42 708.42 965.79 709.25 969.75C710.08 973.71 710.83 977.96 712 981C713.17 984.04 714.71 986.42 716.25 988C717.79 989.58 719.29 989.9 721.25 990.5C723.21 991.1 722.92 991.6 728 991.6C735.92 991.6 743.83 991.6 751.75 991.6" fill="none" stroke="#000000" stroke-width="3.1" stroke-dasharray="0.01 6.9" stroke-dashoffset="0" stroke-linecap="round" clip-path="url(#cc3)"/>
<path d="M318.5 1083.1C320.07 1083.27 325.03 1084.1 327.9 1084.1C330.77 1084.1 333.1 1083.78 335.7 1083.1C338.3 1082.42 341.16 1080 343.5 1080C345.58 1080 347.67 1080 349.75 1080C351.83 1080 353.66 1081.6 356 1081.6C358.6 1081.6 361.2 1081.6 363.8 1081.6C366.4 1081.6 369 1078.37 371.6 1076.9C374.2 1075.43 376.79 1073.58 379.4 1072.8C382.01 1072.02 383.86 1072.15 387.25 1072.2C390.64 1072.25 396.62 1072.32 399.75 1073.1C402.88 1073.88 403.92 1075.65 406 1076.9C408.08 1078.15 410.17 1079.3 412.25 1080.6C414.33 1081.9 416.16 1083.45 418.5 1084.7C420.84 1085.95 423.7 1087.32 426.3 1088.1C428.9 1088.88 430.98 1089 434.1 1089.4C437.22 1089.8 434.02 1090.5 445 1090.5C463.33 1090.5 481.67 1090.5 500 1090.5C513.33 1090.5 526.67 1090.5 540 1090.5C542.5 1090.5 545 1090.5 547.5 1090.5C550.21 1090.5 553.75 1086.96 556.25 1086C558.75 1085.04 560.21 1085 562.5 1084.75C564.79 1084.5 567.83 1085.25 570 1084.5C572.17 1083.75 573.62 1082.62 575.5 1080.25C577.38 1077.88 579.46 1072.62 581.25 1070.25C583.04 1067.88 584.58 1066.21 586.25 1066C587.92 1065.79 589.17 1067.33 591.25 1069C593.33 1070.67 596.54 1075.79 598.75 1076C600.96 1076.21 602.62 1072.46 604.5 1070.25C606.38 1068.04 608.46 1064.21 610 1062.75C611.54 1061.29 612.08 1060.96 613.75 1061.5C615.42 1062.04 618.12 1064.83 620 1066C621.88 1067.17 622.92 1068.75 625 1068.5C627.08 1068.25 630.21 1065.46 632.5 1064.5C634.79 1063.54 636.67 1062.5 638.75 1062.75C640.83 1063 643.04 1064.96 645 1066C646.96 1067.04 648.83 1069.33 650.5 1069C652.17 1068.67 653.42 1067.75 655 1064C656.58 1060.25 658.33 1052.33 660 1046.5C661.67 1040.67 663.54 1032.62 665 1029C666.46 1025.38 667.5 1024.96 668.75 1024.75C670 1024.54 671.25 1025.58 672.5 1027.75C673.75 1029.92 674.79 1033.79 676.25 1037.75C677.71 1041.71 679.71 1048.38 681.25 1051.5C682.79 1054.62 684.12 1056.29 685.5 1056.5C686.88 1056.71 688.12 1054.62 689.5 1052.75C690.88 1050.88 692.42 1046.83 693.75 1045.25C695.08 1043.67 696.25 1042.83 697.5 1043.25C698.75 1043.67 699.79 1044.71 701.25 1047.75C702.71 1050.79 704.58 1056.92 706.25 1061.5C707.92 1066.08 709.58 1071.5 711.25 1075.25C712.92 1079 714.58 1081.92 716.25 1084C717.92 1086.08 719.38 1086.67 721.25 1087.75C723.12 1088.83 725.21 1090.5 727.5 1090.5C730 1090.5 732.5 1090.5 735 1090.5C740.58 1090.5 746.17 1090.5 751.75 1090.5" fill="none" stroke="#ff0000" stroke-width="3.3" stroke-linejoin="round" stroke-linecap="butt" clip-path="url(#cc4)"/>
<path d="M318.5 1061.25 L319.37 1061.22 L320.56 1061.19 L321.98 1061.16 L323.54 1061.12 L325.15 1061.05 L326.72 1060.95 L328.17 1060.8 L329.4 1060.6 M345 1052.8 L345.57 1052.86 L346.16 1052.96 L346.76 1053.11 L347.38 1053.31 L348.01 1053.55 L348.66 1053.83 L349.32 1054.15 L350 1054.5 L350.7 1054.91 L351.41 1055.38 L352.13 1055.91 L352.88 1056.47 L353.63 1057.04 L354.41 1057.63 L355.2 1058.2 L356 1058.75 M371 1067.5 L372.25 1068.16 L373.61 1068.85 L375.04 1069.57 L376.5 1070.31 L377.96 1071.04 L379.39 1071.76 L380.75 1072.45 L382 1073.1 M397.25 1081.6 L398.48 1082.17 L399.82 1082.77 L401.25 1083.39 L402.73 1084.01 L404.23 1084.62 L405.72 1085.21 L407.15 1085.76 L408.5 1086.25 M556.25 1090.5 L565.62 1090.5 L568.75 1090.5 M582.13 1090.39 L584.63 1090.24 L586.19 1090.06 L587.14 1089.86 L587.8 1089.66 L588.48 1089.48 L589.52 1089.33 L591.01 1089.25 L592.41 1089.2 M610 1087.25 L611.8 1086.98 L613.85 1086.7 L616.05 1086.4 L618.33 1086.09 L620.58 1085.78 L622.71 1085.45 L624.63 1085.1 L626.25 1084.75 M640 1080.25 L641.35 1080.46 L642.9 1080.82 L644.59 1081.29 L646.34 1081.81 L648.08 1082.32 L649.74 1082.77 L651.23 1083.1 L652.5 1083.25 M665.5 1071.5 L666.01 1070.8 L666.54 1070.05 L667.09 1069.25 L667.66 1068.44 L668.23 1067.63 L668.82 1066.86 L669.41 1066.14 L670 1065.5 L670.6 1064.91 L671.21 1064.33 L671.84 1063.78 L672.47 1063.28 L673.1 1062.84 L673.74 1062.46 L674.37 1062.18 L675 1062 M688.75 1071 L689.46 1071.17 L690.21 1071.25 L690.98 1071.28 L691.78 1071.28 L692.59 1071.28 L693.4 1071.29 L694.21 1071.36 L695 1071.5 L695.78 1071.69 L696.57 1071.9 L697.37 1072.14 L698.16 1072.41 L698.94 1072.72 L699.72 1073.08 L700.49 1073.51 L701.25 1074 M711.9 1086.12 L712.8 1087.01 L713.75 1087.75 L714.76 1088.37 L715.83 1088.92 L716.94 1089.39 L717.7 1089.66" fill="none" stroke="#19f019" stroke-width="3.3" stroke-linejoin="round" stroke-linecap="butt" clip-path="url(#cc4)"/>
<path d="M318.5 1048.1C319.8 1048.32 323.95 1049.71 326.3 1049.4C328.65 1049.09 330.52 1047.77 332.6 1046.25C334.68 1044.73 336.83 1041.97 338.8 1040.3C340.77 1038.63 342.42 1036.51 344.4 1036.25C346.38 1035.99 348.67 1037.19 350.7 1038.75C352.73 1040.31 354.57 1043.67 356.6 1045.6C358.63 1047.52 360.82 1049.67 362.9 1050.3C364.98 1050.93 367.02 1049.66 369.1 1049.4C371.18 1049.14 373.27 1048.23 375.4 1048.75C377.53 1049.27 379.67 1051.19 381.9 1052.5C384.13 1053.81 386.62 1055.3 388.8 1056.6C390.98 1057.9 392.92 1059 395 1060.3C397.08 1061.6 399.2 1062.58 401.3 1064.4C403.4 1066.23 405.52 1069.17 407.6 1071.25C409.68 1073.33 411.73 1075.18 413.8 1076.9C415.87 1078.62 417.8 1080.15 420 1081.6C422.2 1083.05 424.65 1084.41 427 1085.6C429.35 1086.79 431.87 1087.93 434.1 1088.75C436.33 1089.57 437.75 1090.5 440.4 1090.5C443.6 1090.5 446.8 1090.5 450 1090.5C466.67 1090.5 483.33 1090.5 500 1090.5C513.33 1090.5 526.67 1090.5 540 1090.5C542.5 1090.5 545 1090.5 547.5 1090.5C550.21 1090.5 552.5 1087.08 556.25 1086C560 1084.92 566.79 1085.17 570 1084C573.21 1082.83 573.71 1081.29 575.5 1079C577.29 1076.71 578.96 1072.54 580.75 1070.25C582.54 1067.96 584.5 1065.54 586.25 1065.25C588 1064.96 589.38 1066.83 591.25 1068.5C593.12 1070.17 595.42 1074.96 597.5 1075.25C599.58 1075.54 601.88 1072.75 603.75 1070.25C605.62 1067.75 606.88 1062.25 608.75 1060.25C610.62 1058.25 612.92 1057.83 615 1058.25C617.08 1058.67 619.17 1062.42 621.25 1062.75C623.33 1063.08 625.42 1061.58 627.5 1060.25C629.58 1058.92 631.67 1055.92 633.75 1054.75C635.83 1053.58 637.92 1052.54 640 1053.25C642.08 1053.96 644.17 1059 646.25 1059C648.33 1059 650.42 1059 652.5 1059C654.08 1059 654.71 1055.04 655.75 1051.5C656.79 1047.96 657.75 1042.33 658.75 1037.75C659.75 1033.17 660.71 1028.38 661.75 1024C662.79 1019.62 663.75 1015.33 665 1011.5C666.25 1007.67 667.79 1002.25 669.25 1001C670.71 999.75 672.38 1001.62 673.75 1004C675.12 1006.38 676.04 1011.29 677.5 1015.25C678.96 1019.21 680.92 1024.42 682.5 1027.75C684.08 1031.08 685.42 1034.83 687 1035.25C688.58 1035.67 690.33 1032.12 692 1030.25C693.67 1028.38 695.46 1024 697 1024C698.54 1024 700.04 1027.12 701.25 1030.25C702.46 1033.38 703.21 1038.38 704.25 1042.75C705.29 1047.12 706.33 1051.71 707.5 1056.5C708.67 1061.29 710 1067.33 711.25 1071.5C712.5 1075.67 713.54 1078.92 715 1081.5C716.46 1084.08 718.12 1085.5 720 1087C721.88 1088.5 723.75 1090.5 726.25 1090.5C729.17 1090.5 732.08 1090.5 735 1090.5C740.58 1090.5 746.17 1090.5 751.75 1090.5" fill="none" stroke="#000000" stroke-width="3.1" stroke-dasharray="0.01 6.9" stroke-dashoffset="0" stroke-linecap="round" clip-path="url(#cc4)"/>
<line x1="319" y1="695" x2="751.75" y2="695" stroke="#000" stroke-width="1.9"/>
<line x1="319" y1="892.5" x2="751.75" y2="892.5" stroke="#111" stroke-width="1.4"/>
<line x1="319" y1="596.75" x2="319" y2="1090.2" stroke="#1a1a1a" stroke-width="1.25"/>
<line x1="751.75" y1="596.75" x2="751.75" y2="1090.2" stroke="#1a1a1a" stroke-width="1.25"/>
<rect x="215" y="12.6" width="88" height="21.9" fill="#ffffff"/>
<line x1="215" y1="12.6" x2="215" y2="34.5" stroke="#2a2a2a" stroke-width="1.3"/>
<line x1="215" y1="34.5" x2="303" y2="34.5" stroke="#2a2a2a" stroke-width="1.3"/>
<line x1="303" y1="12.6" x2="303" y2="34.5" stroke="#2a2a2a" stroke-width="1.3"/>
<line x1="222" y1="23.75" x2="252" y2="23.75" stroke="#000000" stroke-width="3.1" stroke-dasharray="0.01 6.9" stroke-linecap="round"/>
<text x="259.5" y="28.55" font-size="13.4" text-anchor="start" fill="#111111" stroke="#111111" stroke-width="0.3" >TDOS</text>
<rect x="214.8" y="111.8" width="94.6" height="71.4" fill="#ffffff"/>
<line x1="214.8" y1="111.8" x2="214.8" y2="183.2" stroke="#8c8c8c" stroke-width="1.2"/>
<line x1="214.8" y1="183.2" x2="309.4" y2="183.2" stroke="#8c8c8c" stroke-width="1.2"/>
<line x1="309.4" y1="111.8" x2="309.4" y2="183.2" stroke="#c4c4c4" stroke-width="1"/>
<line x1="220" y1="122.5" x2="253.5" y2="122.5" stroke="#ff0000" stroke-width="3.3"/>
<text x="256" y="127.3" font-size="13.4" text-anchor="start" fill="#111111" stroke="#111111" stroke-width="0.3" >Zn-4s</text>
<line x1="220" y1="139.5" x2="253.5" y2="139.5" stroke="#19f019" stroke-width="3.3" stroke-dasharray="13 13.3 7.5 100"/>
<text x="256" y="144.3" font-size="13.4" text-anchor="start" fill="#111111" stroke="#111111" stroke-width="0.3" >Zn-4p</text>
<line x1="220" y1="156.75" x2="253.5" y2="156.75" stroke="#0000ff" stroke-width="3.3"/>
<text x="256" y="161.55" font-size="13.4" text-anchor="start" fill="#111111" stroke="#111111" stroke-width="0.3" >Zn-3d</text>
<line x1="220.8" y1="173.2" x2="253.5" y2="173.2" stroke="#000000" stroke-width="3.1" stroke-dasharray="0.01 6.9" stroke-linecap="round"/>
<text x="256" y="178" font-size="13.4" text-anchor="start" fill="#111111" stroke="#111111" stroke-width="0.3" >Zn-total</text>
<rect x="215" y="210.6" width="87.5" height="54.4" fill="#ffffff"/>
<line x1="215" y1="210.6" x2="215" y2="265" stroke="#585858" stroke-width="1.2"/>
<line x1="215" y1="265" x2="302.5" y2="265" stroke="#585858" stroke-width="1.2"/>
<line x1="302.5" y1="210.6" x2="302.5" y2="265" stroke="#585858" stroke-width="1.2"/>
<line x1="220" y1="221.25" x2="253.5" y2="221.25" stroke="#ff0000" stroke-width="3.3"/>
<text x="256" y="226.05" font-size="13.4" text-anchor="start" fill="#111111" stroke="#111111" stroke-width="0.3" >O-2s</text>
<line x1="220" y1="238" x2="253.5" y2="238" stroke="#19f019" stroke-width="3.3" stroke-dasharray="13 13.3 7.5 100"/>
<text x="256" y="242.8" font-size="13.4" text-anchor="start" fill="#111111" stroke="#111111" stroke-width="0.3" >O-2p</text>
<line x1="220.8" y1="255" x2="253.5" y2="255" stroke="#000000" stroke-width="3.1" stroke-dasharray="0.01 6.9" stroke-linecap="round"/>
<text x="256" y="259.8" font-size="13.4" text-anchor="start" fill="#111111" stroke="#111111" stroke-width="0.3" >O-total</text>
<rect x="215" y="309.6" width="88.75" height="52.4" fill="#ffffff"/>
<line x1="303.75" y1="309.6" x2="303.75" y2="362" stroke="#dddddd" stroke-width="1"/>
<line x1="219" y1="318" x2="252.5" y2="318" stroke="#ff0000" stroke-width="3.3"/>
<text x="254.5" y="322.8" font-size="13.4" text-anchor="start" fill="#111111" stroke="#111111" stroke-width="0.3" >Al-3s</text>
<line x1="219" y1="335.5" x2="252.5" y2="335.5" stroke="#19f019" stroke-width="3.3" stroke-dasharray="13 13.3 7.5 100"/>
<text x="254.5" y="340.3" font-size="13.4" text-anchor="start" fill="#111111" stroke="#111111" stroke-width="0.3" >Al-3p</text>
<line x1="219.8" y1="352" x2="252.5" y2="352" stroke="#000000" stroke-width="3.1" stroke-dasharray="0.01 6.9" stroke-linecap="round"/>
<text x="254.5" y="356.8" font-size="13.4" text-anchor="start" fill="#111111" stroke="#111111" stroke-width="0.3" >Al-total</text>
<rect x="212" y="408.2" width="97.5" height="58" fill="#ffffff"/>
<line x1="212" y1="408.2" x2="212" y2="466.2" stroke="#585858" stroke-width="1.2"/>
<line x1="212" y1="466.2" x2="309.5" y2="466.2" stroke="#585858" stroke-width="1.2"/>
<line x1="309.5" y1="408.2" x2="309.5" y2="466.2" stroke="#aaaaaa" stroke-width="1.1"/>
<line x1="218" y1="421" x2="251.5" y2="421" stroke="#ff0000" stroke-width="3.3"/>
<text x="253.75" y="425.8" font-size="13.4" text-anchor="start" fill="#111111" stroke="#111111" stroke-width="0.3" >Ga-4s</text>
<line x1="218" y1="438" x2="251.5" y2="438" stroke="#19f019" stroke-width="3.3" stroke-dasharray="13 13.3 7.5 100"/>
<text x="253.75" y="442.8" font-size="13.4" text-anchor="start" fill="#111111" stroke="#111111" stroke-width="0.3" >Ga-4p</text>
<line x1="218.8" y1="455.3" x2="251.5" y2="455.3" stroke="#000000" stroke-width="3.1" stroke-dasharray="0.01 6.9" stroke-linecap="round"/>
<text x="253.75" y="460.1" font-size="13.4" text-anchor="start" fill="#111111" stroke="#111111" stroke-width="0.3" >Ga-total</text>
<rect x="748.5" y="13.8" width="88.25" height="21.7" fill="#ffffff"/>
<line x1="748.5" y1="13.8" x2="748.5" y2="35.5" stroke="#2a2a2a" stroke-width="1.3"/>
<line x1="748.5" y1="35.5" x2="836.75" y2="35.5" stroke="#2a2a2a" stroke-width="1.3"/>
<line x1="836.75" y1="13.8" x2="836.75" y2="35.5" stroke="#2a2a2a" stroke-width="1.3"/>
<line x1="754.3" y1="24.5" x2="785.5" y2="24.5" stroke="#000000" stroke-width="3.1" stroke-dasharray="0.01 6.9" stroke-linecap="round"/>
<text x="792" y="29.3" font-size="13.4" text-anchor="start" fill="#111111" stroke="#111111" stroke-width="0.3" >TDOS</text>
<rect x="745.75" y="112.5" width="93.5" height="72" fill="#ffffff"/>
<line x1="745.75" y1="112.5" x2="839.25" y2="112.5" stroke="#555555" stroke-width="1"/>
<line x1="745.75" y1="184.5" x2="839.25" y2="184.5" stroke="#555555" stroke-width="1"/>
<line x1="750" y1="123.75" x2="784.25" y2="123.75" stroke="#ff0000" stroke-width="3.3"/>
<text x="786.5" y="128.55" font-size="13.4" text-anchor="start" fill="#111111" stroke="#111111" stroke-width="0.3" >Zn-4s</text>
<line x1="750" y1="140.5" x2="784.25" y2="140.5" stroke="#19f019" stroke-width="3.3" stroke-dasharray="13 13.3 7.5 100"/>
<text x="786.5" y="145.3" font-size="13.4" text-anchor="start" fill="#111111" stroke="#111111" stroke-width="0.3" >Zn-4p</text>
<line x1="750" y1="158" x2="784.25" y2="158" stroke="#0000ff" stroke-width="3.3"/>
<text x="786.5" y="162.8" font-size="13.4" text-anchor="start" fill="#111111" stroke="#111111" stroke-width="0.3" >Zn-3d</text>
<line x1="750.8" y1="175" x2="784.25" y2="175" stroke="#000000" stroke-width="3.1" stroke-dasharray="0.01 6.9" stroke-linecap="round"/>
<text x="786.5" y="179.8" font-size="13.4" text-anchor="start" fill="#111111" stroke="#111111" stroke-width="0.3" >Zn-total</text>
<rect x="744.5" y="212.7" width="88.5" height="54.3" fill="#ffffff"/>
<line x1="744.5" y1="212.7" x2="744.5" y2="267" stroke="#2a2a2a" stroke-width="1.3"/>
<line x1="744.5" y1="212.7" x2="833" y2="212.7" stroke="#2a2a2a" stroke-width="1.3"/>
<line x1="744.5" y1="267" x2="833" y2="267" stroke="#2a2a2a" stroke-width="1.3"/>
<line x1="833" y1="212.7" x2="833" y2="267" stroke="#2a2a2a" stroke-width="1.3"/>
<line x1="749" y1="223" x2="782.5" y2="223" stroke="#ff0000" stroke-width="3.3"/>
<text x="785" y="227.8" font-size="13.4" text-anchor="start" fill="#111111" stroke="#111111" stroke-width="0.3" >O-2s</text>
<line x1="749" y1="240" x2="782.5" y2="240" stroke="#19f019" stroke-width="3.3" stroke-dasharray="13 13.3 7.5 100"/>
<text x="785" y="244.8" font-size="13.4" text-anchor="start" fill="#111111" stroke="#111111" stroke-width="0.3" >O-2p</text>
<line x1="749.8" y1="257" x2="782.5" y2="257" stroke="#000000" stroke-width="3.1" stroke-dasharray="0.01 6.9" stroke-linecap="round"/>
<text x="785" y="261.8" font-size="13.4" text-anchor="start" fill="#111111" stroke="#111111" stroke-width="0.3" >O-total</text>
<rect x="743" y="310" width="90" height="53.5" fill="#ffffff"/>
<line x1="833" y1="310" x2="833" y2="363.5" stroke="#999999" stroke-width="1"/>
<line x1="748" y1="319.7" x2="781.75" y2="319.7" stroke="#ff0000" stroke-width="3.3"/>
<text x="783.9" y="324.5" font-size="13.4" text-anchor="start" fill="#111111" stroke="#111111" stroke-width="0.3" >Al-3s</text>
<line x1="748" y1="336.5" x2="781.75" y2="336.5" stroke="#19f019" stroke-width="3.3" stroke-dasharray="13 13.3 7.5 100"/>
<text x="783.9" y="341.3" font-size="13.4" text-anchor="start" fill="#111111" stroke="#111111" stroke-width="0.3" >Al-3p</text>
<line x1="748.8" y1="353.75" x2="781.75" y2="353.75" stroke="#000000" stroke-width="3.1" stroke-dasharray="0.01 6.9" stroke-linecap="round"/>
<text x="783.9" y="358.55" font-size="13.4" text-anchor="start" fill="#111111" stroke="#111111" stroke-width="0.3" >Al-total</text>
<rect x="743" y="408.3" width="94.5" height="57.2" fill="#ffffff"/>
<line x1="743" y1="408.3" x2="837.5" y2="408.3" stroke="#000000" stroke-width="1.7"/>
<line x1="837.5" y1="408.3" x2="837.5" y2="465.5" stroke="#999999" stroke-width="1"/>
<line x1="748" y1="420.3" x2="781.75" y2="420.3" stroke="#ff0000" stroke-width="3.3"/>
<text x="783.9" y="425.1" font-size="13.4" text-anchor="start" fill="#111111" stroke="#111111" stroke-width="0.3" >Ga-4s</text>
<line x1="748" y1="437.5" x2="781.75" y2="437.5" stroke="#19f019" stroke-width="3.3" stroke-dasharray="13 13.3 7.5 100"/>
<text x="783.9" y="442.3" font-size="13.4" text-anchor="start" fill="#111111" stroke="#111111" stroke-width="0.3" >Ga-4p</text>
<line x1="748.8" y1="454" x2="781.75" y2="454" stroke="#000000" stroke-width="3.1" stroke-dasharray="0.01 6.9" stroke-linecap="round"/>
<text x="783.9" y="458.8" font-size="13.4" text-anchor="start" fill="#111111" stroke="#111111" stroke-width="0.3" >Ga-total</text>
<rect x="480" y="597.3" width="88" height="21.95" fill="#ffffff"/>
<line x1="480" y1="597.3" x2="480" y2="619.25" stroke="#2a2a2a" stroke-width="1.3"/>
<line x1="480" y1="619.25" x2="568" y2="619.25" stroke="#2a2a2a" stroke-width="1.3"/>
<line x1="568" y1="597.3" x2="568" y2="619.25" stroke="#2a2a2a" stroke-width="1.3"/>
<line x1="485.8" y1="608" x2="517" y2="608" stroke="#000000" stroke-width="3.1" stroke-dasharray="0.01 6.9" stroke-linecap="round"/>
<text x="523.5" y="612.8" font-size="13.4" text-anchor="start" fill="#111111" stroke="#111111" stroke-width="0.3" >TDOS</text>
<rect x="480" y="695.8" width="94.5" height="71.2" fill="#ffffff"/>
<line x1="480" y1="695.8" x2="480" y2="767" stroke="#2a2a2a" stroke-width="1.3"/>
<line x1="480" y1="767" x2="574.5" y2="767" stroke="#2a2a2a" stroke-width="1.3"/>
<line x1="574.5" y1="695.8" x2="574.5" y2="767" stroke="#2a2a2a" stroke-width="1.3"/>
<line x1="485" y1="706.75" x2="518.5" y2="706.75" stroke="#ff0000" stroke-width="3.3"/>
<text x="520.75" y="711.55" font-size="13.4" text-anchor="start" fill="#111111" stroke="#111111" stroke-width="0.3" >Zn-4s</text>
<line x1="485" y1="723.5" x2="518.5" y2="723.5" stroke="#19f019" stroke-width="3.3" stroke-dasharray="13 13.3 7.5 100"/>
<text x="520.75" y="728.3" font-size="13.4" text-anchor="start" fill="#111111" stroke="#111111" stroke-width="0.3" >Zn-4p</text>
<line x1="485" y1="741" x2="518.5" y2="741" stroke="#0000ff" stroke-width="3.3"/>
<text x="520.75" y="745.8" font-size="13.4" text-anchor="start" fill="#111111" stroke="#111111" stroke-width="0.3" >Zn-3d</text>
<line x1="485.8" y1="757.5" x2="518.5" y2="757.5" stroke="#000000" stroke-width="3.1" stroke-dasharray="0.01 6.9" stroke-linecap="round"/>
<text x="520.75" y="762.3" font-size="13.4" text-anchor="start" fill="#111111" stroke="#111111" stroke-width="0.3" >Zn-total</text>
<rect x="481.25" y="794.75" width="86.75" height="54.5" fill="#ffffff"/>
<line x1="481.25" y1="794.75" x2="568" y2="794.75" stroke="#000000" stroke-width="1.8"/>
<line x1="481.25" y1="849.25" x2="568" y2="849.25" stroke="#2a2a2a" stroke-width="1.3"/>
<line x1="485" y1="805.5" x2="518.5" y2="805.5" stroke="#ff0000" stroke-width="3.3"/>
<text x="521.25" y="810.3" font-size="13.4" text-anchor="start" fill="#111111" stroke="#111111" stroke-width="0.3" >O-2s</text>
<line x1="485" y1="822.25" x2="518.5" y2="822.25" stroke="#19f019" stroke-width="3.3" stroke-dasharray="13 13.3 7.5 100"/>
<text x="521.25" y="827.05" font-size="13.4" text-anchor="start" fill="#111111" stroke="#111111" stroke-width="0.3" >O-2p</text>
<line x1="485.8" y1="839.75" x2="518.5" y2="839.75" stroke="#000000" stroke-width="3.1" stroke-dasharray="0.01 6.9" stroke-linecap="round"/>
<text x="521.25" y="844.55" font-size="13.4" text-anchor="start" fill="#111111" stroke="#111111" stroke-width="0.3" >O-total</text>
<rect x="480" y="893" width="89.5" height="53.75" fill="#ffffff"/>
<line x1="480" y1="893" x2="480" y2="946.75" stroke="#2a2a2a" stroke-width="1.3"/>
<line x1="480" y1="946.75" x2="569.5" y2="946.75" stroke="#2a2a2a" stroke-width="1.3"/>
<line x1="569.5" y1="893" x2="569.5" y2="946.75" stroke="#2a2a2a" stroke-width="1.3"/>
<line x1="485" y1="902.75" x2="518.5" y2="902.75" stroke="#ff0000" stroke-width="3.3"/>
<text x="520.5" y="907.55" font-size="13.4" text-anchor="start" fill="#111111" stroke="#111111" stroke-width="0.3" >Al-3s</text>
<line x1="485" y1="919.25" x2="518.5" y2="919.25" stroke="#19f019" stroke-width="3.3" stroke-dasharray="13 13.3 7.5 100"/>
<text x="520.5" y="924.05" font-size="13.4" text-anchor="start" fill="#111111" stroke="#111111" stroke-width="0.3" >Al-3p</text>
<line x1="485.8" y1="936.5" x2="518.5" y2="936.5" stroke="#000000" stroke-width="3.1" stroke-dasharray="0.01 6.9" stroke-linecap="round"/>
<text x="520.5" y="941.3" font-size="13.4" text-anchor="start" fill="#111111" stroke="#111111" stroke-width="0.3" >Al-total</text>
<rect x="476.3" y="992" width="97.7" height="56.9" fill="#ffffff"/>
<line x1="476.3" y1="1048.9" x2="574" y2="1048.9" stroke="#2a2a2a" stroke-width="1.3"/>
<line x1="574" y1="992" x2="574" y2="1048.9" stroke="#2a2a2a" stroke-width="1.3"/>
<line x1="481.6" y1="1003.4" x2="515.75" y2="1003.4" stroke="#ff0000" stroke-width="3.3"/>
<text x="518.5" y="1008.2" font-size="13.4" text-anchor="start" fill="#111111" stroke="#111111" stroke-width="0.3" >Ga-4s</text>
<line x1="481.6" y1="1020.6" x2="515.75" y2="1020.6" stroke="#19f019" stroke-width="3.3" stroke-dasharray="13 13.3 7.5 100"/>
<text x="518.5" y="1025.4" font-size="13.4" text-anchor="start" fill="#111111" stroke="#111111" stroke-width="0.3" >Ga-4p</text>
<line x1="482.4" y1="1037.8" x2="515.75" y2="1037.8" stroke="#000000" stroke-width="3.1" stroke-dasharray="0.01 6.9" stroke-linecap="round"/>
<text x="518.5" y="1042.6" font-size="13.4" text-anchor="start" fill="#111111" stroke="#111111" stroke-width="0.3" >Ga-total</text>
<line x1="54.8" y1="111" x2="59" y2="111" stroke="#1a1a1a" stroke-width="1.2"/>
<text x="51.7" y="115.05" font-size="13" text-anchor="end" fill="#111111" stroke="#111111" stroke-width="0.3" >0</text>
<line x1="54.8" y1="71.6" x2="59" y2="71.6" stroke="#1a1a1a" stroke-width="1.2"/>
<text x="51.7" y="75.65" font-size="13" text-anchor="end" fill="#111111" stroke="#111111" stroke-width="0.3" >50</text>
<line x1="54.8" y1="32.2" x2="59" y2="32.2" stroke="#1a1a1a" stroke-width="1.2"/>
<text x="51.7" y="36.25" font-size="13" text-anchor="end" fill="#111111" stroke="#111111" stroke-width="0.3" >100</text>
<line x1="56.6" y1="91.3" x2="59" y2="91.3" stroke="#1a1a1a" stroke-width="1.1"/>
<line x1="56.6" y1="51.9" x2="59" y2="51.9" stroke="#1a1a1a" stroke-width="1.1"/>
<line x1="54.8" y1="210" x2="59" y2="210" stroke="#1a1a1a" stroke-width="1.2"/>
<text x="51.7" y="214.05" font-size="13" text-anchor="end" fill="#111111" stroke="#111111" stroke-width="0.3" >0</text>
<line x1="54.8" y1="127.5" x2="59" y2="127.5" stroke="#1a1a1a" stroke-width="1.2"/>
<text x="51.7" y="131.55" font-size="13" text-anchor="end" fill="#111111" stroke="#111111" stroke-width="0.3" >5</text>
<line x1="56.6" y1="168.75" x2="59" y2="168.75" stroke="#1a1a1a" stroke-width="1.1"/>
<line x1="54.8" y1="309" x2="59" y2="309" stroke="#1a1a1a" stroke-width="1.2"/>
<text x="51.7" y="313.05" font-size="13" text-anchor="end" fill="#111111" stroke="#111111" stroke-width="0.3" >0</text>
<line x1="54.8" y1="243.3" x2="59" y2="243.3" stroke="#1a1a1a" stroke-width="1.2"/>
<text x="51.7" y="247.35" font-size="13" text-anchor="end" fill="#111111" stroke="#111111" stroke-width="0.3" >1</text>
<line x1="56.6" y1="276.1" x2="59" y2="276.1" stroke="#1a1a1a" stroke-width="1.1"/>
<line x1="54.8" y1="407.5" x2="59" y2="407.5" stroke="#1a1a1a" stroke-width="1.2"/>
<text x="51.7" y="411.55" font-size="13" text-anchor="end" fill="#111111" stroke="#111111" stroke-width="0.3" >0.00</text>
<line x1="54.8" y1="366.9" x2="59" y2="366.9" stroke="#1a1a1a" stroke-width="1.2"/>
<text x="51.7" y="370.95" font-size="13" text-anchor="end" fill="#111111" stroke="#111111" stroke-width="0.3" >0.05</text>
<line x1="54.8" y1="326.3" x2="59" y2="326.3" stroke="#1a1a1a" stroke-width="1.2"/>
<text x="51.7" y="330.35" font-size="13" text-anchor="end" fill="#111111" stroke="#111111" stroke-width="0.3" >0.10</text>
<line x1="56.6" y1="387.2" x2="59" y2="387.2" stroke="#1a1a1a" stroke-width="1.1"/>
<line x1="56.6" y1="346.6" x2="59" y2="346.6" stroke="#1a1a1a" stroke-width="1.1"/>
<line x1="54.8" y1="506.8" x2="59" y2="506.8" stroke="#1a1a1a" stroke-width="1.2"/>
<text x="51.7" y="510.85" font-size="13" text-anchor="end" fill="#111111" stroke="#111111" stroke-width="0.3" >0.0</text>
<line x1="54.8" y1="472.3" x2="59" y2="472.3" stroke="#1a1a1a" stroke-width="1.2"/>
<text x="51.7" y="476.35" font-size="13" text-anchor="end" fill="#111111" stroke="#111111" stroke-width="0.3" >3.5</text>
<line x1="54.8" y1="437.6" x2="59" y2="437.6" stroke="#1a1a1a" stroke-width="1.2"/>
<text x="51.7" y="441.65" font-size="13" text-anchor="end" fill="#111111" stroke="#111111" stroke-width="0.3" >7.0</text>
<line x1="56.6" y1="489.5" x2="59" y2="489.5" stroke="#1a1a1a" stroke-width="1.1"/>
<line x1="56.6" y1="455" x2="59" y2="455" stroke="#1a1a1a" stroke-width="1.1"/>
<line x1="56.6" y1="420.3" x2="59" y2="420.3" stroke="#1a1a1a" stroke-width="1.1"/>
<line x1="59" y1="506.8" x2="59" y2="512" stroke="#1a1a1a" stroke-width="1.2"/>
<text x="59" y="524.65" font-size="13" text-anchor="middle" fill="#111111" stroke="#111111" stroke-width="0.3" >-8</text>
<line x1="77.04" y1="506.8" x2="77.04" y2="510" stroke="#1a1a1a" stroke-width="1.1"/>
<line x1="95.08" y1="506.8" x2="95.08" y2="512" stroke="#1a1a1a" stroke-width="1.2"/>
<text x="95.08" y="524.65" font-size="13" text-anchor="middle" fill="#111111" stroke="#111111" stroke-width="0.3" >-7</text>
<line x1="113.13" y1="506.8" x2="113.13" y2="510" stroke="#1a1a1a" stroke-width="1.1"/>
<line x1="131.17" y1="506.8" x2="131.17" y2="512" stroke="#1a1a1a" stroke-width="1.2"/>
<text x="131.17" y="524.65" font-size="13" text-anchor="middle" fill="#111111" stroke="#111111" stroke-width="0.3" >-6</text>
<line x1="149.21" y1="506.8" x2="149.21" y2="510" stroke="#1a1a1a" stroke-width="1.1"/>
<line x1="167.25" y1="506.8" x2="167.25" y2="512" stroke="#1a1a1a" stroke-width="1.2"/>
<text x="167.25" y="524.65" font-size="13" text-anchor="middle" fill="#111111" stroke="#111111" stroke-width="0.3" >-5</text>
<line x1="185.29" y1="506.8" x2="185.29" y2="510" stroke="#1a1a1a" stroke-width="1.1"/>
<line x1="203.33" y1="506.8" x2="203.33" y2="512" stroke="#1a1a1a" stroke-width="1.2"/>
<text x="203.33" y="524.65" font-size="13" text-anchor="middle" fill="#111111" stroke="#111111" stroke-width="0.3" >-4</text>
<line x1="221.38" y1="506.8" x2="221.38" y2="510" stroke="#1a1a1a" stroke-width="1.1"/>
<line x1="239.42" y1="506.8" x2="239.42" y2="512" stroke="#1a1a1a" stroke-width="1.2"/>
<text x="239.42" y="524.65" font-size="13" text-anchor="middle" fill="#111111" stroke="#111111" stroke-width="0.3" >-3</text>
<line x1="257.46" y1="506.8" x2="257.46" y2="510" stroke="#1a1a1a" stroke-width="1.1"/>
<line x1="275.5" y1="506.8" x2="275.5" y2="512" stroke="#1a1a1a" stroke-width="1.2"/>
<text x="275.5" y="524.65" font-size="13" text-anchor="middle" fill="#111111" stroke="#111111" stroke-width="0.3" >-2</text>
<line x1="293.54" y1="506.8" x2="293.54" y2="510" stroke="#1a1a1a" stroke-width="1.1"/>
<line x1="311.58" y1="506.8" x2="311.58" y2="512" stroke="#1a1a1a" stroke-width="1.2"/>
<text x="311.58" y="524.65" font-size="13" text-anchor="middle" fill="#111111" stroke="#111111" stroke-width="0.3" >-1</text>
<line x1="329.63" y1="506.8" x2="329.63" y2="510" stroke="#1a1a1a" stroke-width="1.1"/>
<line x1="347.67" y1="506.8" x2="347.67" y2="512" stroke="#1a1a1a" stroke-width="1.2"/>
<text x="347.67" y="524.65" font-size="13" text-anchor="middle" fill="#111111" stroke="#111111" stroke-width="0.3" >0</text>
<line x1="365.71" y1="506.8" x2="365.71" y2="510" stroke="#1a1a1a" stroke-width="1.1"/>
<line x1="383.75" y1="506.8" x2="383.75" y2="512" stroke="#1a1a1a" stroke-width="1.2"/>
<text x="383.75" y="524.65" font-size="13" text-anchor="middle" fill="#111111" stroke="#111111" stroke-width="0.3" >1</text>
<line x1="401.79" y1="506.8" x2="401.79" y2="510" stroke="#1a1a1a" stroke-width="1.1"/>
<line x1="419.83" y1="506.8" x2="419.83" y2="512" stroke="#1a1a1a" stroke-width="1.2"/>
<text x="419.83" y="524.65" font-size="13" text-anchor="middle" fill="#111111" stroke="#111111" stroke-width="0.3" >2</text>
<line x1="437.88" y1="506.8" x2="437.88" y2="510" stroke="#1a1a1a" stroke-width="1.1"/>
<line x1="455.92" y1="506.8" x2="455.92" y2="512" stroke="#1a1a1a" stroke-width="1.2"/>
<text x="455.92" y="524.65" font-size="13" text-anchor="middle" fill="#111111" stroke="#111111" stroke-width="0.3" >3</text>
<line x1="473.96" y1="506.8" x2="473.96" y2="510" stroke="#1a1a1a" stroke-width="1.1"/>
<line x1="492" y1="506.8" x2="492" y2="512" stroke="#1a1a1a" stroke-width="1.2"/>
<text x="492" y="524.65" font-size="13" text-anchor="middle" fill="#111111" stroke="#111111" stroke-width="0.3" >4</text>
<line x1="577.3" y1="111.4" x2="581.5" y2="111.4" stroke="#1a1a1a" stroke-width="1.2"/>
<text x="574.2" y="115.45" font-size="13" text-anchor="end" fill="#111111" stroke="#111111" stroke-width="0.3" >0</text>
<line x1="577.3" y1="74.2" x2="581.5" y2="74.2" stroke="#1a1a1a" stroke-width="1.2"/>
<text x="574.2" y="78.25" font-size="13" text-anchor="end" fill="#111111" stroke="#111111" stroke-width="0.3" >49</text>
<line x1="577.3" y1="37" x2="581.5" y2="37" stroke="#1a1a1a" stroke-width="1.2"/>
<text x="574.2" y="41.05" font-size="13" text-anchor="end" fill="#111111" stroke="#111111" stroke-width="0.3" >98</text>
<line x1="579.1" y1="92.8" x2="581.5" y2="92.8" stroke="#1a1a1a" stroke-width="1.1"/>
<line x1="579.1" y1="55.6" x2="581.5" y2="55.6" stroke="#1a1a1a" stroke-width="1.1"/>
<line x1="579.1" y1="18.4" x2="581.5" y2="18.4" stroke="#1a1a1a" stroke-width="1.1"/>
<line x1="577.3" y1="210" x2="581.5" y2="210" stroke="#1a1a1a" stroke-width="1.2"/>
<text x="574.2" y="214.05" font-size="13" text-anchor="end" fill="#111111" stroke="#111111" stroke-width="0.3" >0</text>
<line x1="577.3" y1="127.5" x2="581.5" y2="127.5" stroke="#1a1a1a" stroke-width="1.2"/>
<text x="574.2" y="131.55" font-size="13" text-anchor="end" fill="#111111" stroke="#111111" stroke-width="0.3" >5</text>
<line x1="579.1" y1="168.75" x2="581.5" y2="168.75" stroke="#1a1a1a" stroke-width="1.1"/>
<line x1="577.3" y1="309.3" x2="581.5" y2="309.3" stroke="#1a1a1a" stroke-width="1.2"/>
<text x="574.2" y="313.35" font-size="13" text-anchor="end" fill="#111111" stroke="#111111" stroke-width="0.3" >0</text>
<line x1="577.3" y1="243.5" x2="581.5" y2="243.5" stroke="#1a1a1a" stroke-width="1.2"/>
<text x="574.2" y="247.55" font-size="13" text-anchor="end" fill="#111111" stroke="#111111" stroke-width="0.3" >1</text>
<line x1="579.1" y1="276.4" x2="581.5" y2="276.4" stroke="#1a1a1a" stroke-width="1.1"/>
<line x1="577.3" y1="408.3" x2="581.5" y2="408.3" stroke="#1a1a1a" stroke-width="1.2"/>
<text x="574.2" y="412.35" font-size="13" text-anchor="end" fill="#111111" stroke="#111111" stroke-width="0.3" >0.00</text>
<line x1="577.3" y1="333.4" x2="581.5" y2="333.4" stroke="#1a1a1a" stroke-width="1.2"/>
<text x="574.2" y="337.45" font-size="13" text-anchor="end" fill="#111111" stroke="#111111" stroke-width="0.3" >0.15</text>
<line x1="577.3" y1="506.7" x2="581.5" y2="506.7" stroke="#1a1a1a" stroke-width="1.2"/>
<text x="574.2" y="510.75" font-size="13" text-anchor="end" fill="#111111" stroke="#111111" stroke-width="0.3" >0.0</text>
<line x1="577.3" y1="446.9" x2="581.5" y2="446.9" stroke="#1a1a1a" stroke-width="1.2"/>
<text x="574.2" y="450.95" font-size="13" text-anchor="end" fill="#111111" stroke="#111111" stroke-width="0.3" >0.6</text>
<line x1="579.1" y1="476.8" x2="581.5" y2="476.8" stroke="#1a1a1a" stroke-width="1.1"/>
<line x1="579.1" y1="417" x2="581.5" y2="417" stroke="#1a1a1a" stroke-width="1.1"/>
<line x1="581.5" y1="506.7" x2="581.5" y2="511.9" stroke="#1a1a1a" stroke-width="1.2"/>
<text x="581.5" y="524.65" font-size="13" text-anchor="middle" fill="#111111" stroke="#111111" stroke-width="0.3" >-8</text>
<line x1="599.56" y1="506.7" x2="599.56" y2="509.9" stroke="#1a1a1a" stroke-width="1.1"/>
<line x1="617.62" y1="506.7" x2="617.62" y2="511.9" stroke="#1a1a1a" stroke-width="1.2"/>
<text x="617.62" y="524.65" font-size="13" text-anchor="middle" fill="#111111" stroke="#111111" stroke-width="0.3" >-7</text>
<line x1="635.69" y1="506.7" x2="635.69" y2="509.9" stroke="#1a1a1a" stroke-width="1.1"/>
<line x1="653.75" y1="506.7" x2="653.75" y2="511.9" stroke="#1a1a1a" stroke-width="1.2"/>
<text x="653.75" y="524.65" font-size="13" text-anchor="middle" fill="#111111" stroke="#111111" stroke-width="0.3" >-6</text>
<line x1="671.81" y1="506.7" x2="671.81" y2="509.9" stroke="#1a1a1a" stroke-width="1.1"/>
<line x1="689.88" y1="506.7" x2="689.88" y2="511.9" stroke="#1a1a1a" stroke-width="1.2"/>
<text x="689.88" y="524.65" font-size="13" text-anchor="middle" fill="#111111" stroke="#111111" stroke-width="0.3" >-5</text>
<line x1="707.94" y1="506.7" x2="707.94" y2="509.9" stroke="#1a1a1a" stroke-width="1.1"/>
<line x1="726" y1="506.7" x2="726" y2="511.9" stroke="#1a1a1a" stroke-width="1.2"/>
<text x="726" y="524.65" font-size="13" text-anchor="middle" fill="#111111" stroke="#111111" stroke-width="0.3" >-4</text>
<line x1="744.06" y1="506.7" x2="744.06" y2="509.9" stroke="#1a1a1a" stroke-width="1.1"/>
<line x1="762.12" y1="506.7" x2="762.12" y2="511.9" stroke="#1a1a1a" stroke-width="1.2"/>
<text x="762.12" y="524.65" font-size="13" text-anchor="middle" fill="#111111" stroke="#111111" stroke-width="0.3" >-3</text>
<line x1="780.19" y1="506.7" x2="780.19" y2="509.9" stroke="#1a1a1a" stroke-width="1.1"/>
<line x1="798.25" y1="506.7" x2="798.25" y2="511.9" stroke="#1a1a1a" stroke-width="1.2"/>
<text x="798.25" y="524.65" font-size="13" text-anchor="middle" fill="#111111" stroke="#111111" stroke-width="0.3" >-2</text>
<line x1="816.31" y1="506.7" x2="816.31" y2="509.9" stroke="#1a1a1a" stroke-width="1.1"/>
<line x1="834.38" y1="506.7" x2="834.38" y2="511.9" stroke="#1a1a1a" stroke-width="1.2"/>
<text x="834.38" y="524.65" font-size="13" text-anchor="middle" fill="#111111" stroke="#111111" stroke-width="0.3" >-1</text>
<line x1="852.44" y1="506.7" x2="852.44" y2="509.9" stroke="#1a1a1a" stroke-width="1.1"/>
<line x1="870.5" y1="506.7" x2="870.5" y2="511.9" stroke="#1a1a1a" stroke-width="1.2"/>
<text x="870.5" y="524.65" font-size="13" text-anchor="middle" fill="#111111" stroke="#111111" stroke-width="0.3" >0</text>
<line x1="888.56" y1="506.7" x2="888.56" y2="509.9" stroke="#1a1a1a" stroke-width="1.1"/>
<line x1="906.62" y1="506.7" x2="906.62" y2="511.9" stroke="#1a1a1a" stroke-width="1.2"/>
<text x="906.62" y="524.65" font-size="13" text-anchor="middle" fill="#111111" stroke="#111111" stroke-width="0.3" >1</text>
<line x1="924.69" y1="506.7" x2="924.69" y2="509.9" stroke="#1a1a1a" stroke-width="1.1"/>
<line x1="942.75" y1="506.7" x2="942.75" y2="511.9" stroke="#1a1a1a" stroke-width="1.2"/>
<text x="942.75" y="524.65" font-size="13" text-anchor="middle" fill="#111111" stroke="#111111" stroke-width="0.3" >2</text>
<line x1="960.81" y1="506.7" x2="960.81" y2="509.9" stroke="#1a1a1a" stroke-width="1.1"/>
<line x1="978.88" y1="506.7" x2="978.88" y2="511.9" stroke="#1a1a1a" stroke-width="1.2"/>
<text x="978.88" y="524.65" font-size="13" text-anchor="middle" fill="#111111" stroke="#111111" stroke-width="0.3" >3</text>
<line x1="996.94" y1="506.7" x2="996.94" y2="509.9" stroke="#1a1a1a" stroke-width="1.1"/>
<line x1="1015" y1="506.7" x2="1015" y2="511.9" stroke="#1a1a1a" stroke-width="1.2"/>
<text x="1015" y="524.65" font-size="13" text-anchor="middle" fill="#111111" stroke="#111111" stroke-width="0.3" >4</text>
<line x1="314.8" y1="695" x2="319" y2="695" stroke="#1a1a1a" stroke-width="1.2"/>
<text x="311.7" y="699.05" font-size="13" text-anchor="end" fill="#111111" stroke="#111111" stroke-width="0.3" >0</text>
<line x1="314.8" y1="613" x2="319" y2="613" stroke="#1a1a1a" stroke-width="1.2"/>
<text x="311.7" y="617.05" font-size="13" text-anchor="end" fill="#111111" stroke="#111111" stroke-width="0.3" >100</text>
<line x1="316.6" y1="654" x2="319" y2="654" stroke="#1a1a1a" stroke-width="1.1"/>
<line x1="314.8" y1="793.4" x2="319" y2="793.4" stroke="#1a1a1a" stroke-width="1.2"/>
<text x="311.7" y="797.45" font-size="13" text-anchor="end" fill="#111111" stroke="#111111" stroke-width="0.3" >0</text>
<line x1="314.8" y1="711" x2="319" y2="711" stroke="#1a1a1a" stroke-width="1.2"/>
<text x="311.7" y="715.05" font-size="13" text-anchor="end" fill="#111111" stroke="#111111" stroke-width="0.3" >5</text>
<line x1="316.6" y1="752.2" x2="319" y2="752.2" stroke="#1a1a1a" stroke-width="1.1"/>
<line x1="314.8" y1="892.5" x2="319" y2="892.5" stroke="#1a1a1a" stroke-width="1.2"/>
<text x="311.7" y="896.55" font-size="13" text-anchor="end" fill="#111111" stroke="#111111" stroke-width="0.3" >0</text>
<line x1="314.8" y1="830.5" x2="319" y2="830.5" stroke="#1a1a1a" stroke-width="1.2"/>
<text x="311.7" y="834.55" font-size="13" text-anchor="end" fill="#111111" stroke="#111111" stroke-width="0.3" >1</text>
<line x1="316.6" y1="861.5" x2="319" y2="861.5" stroke="#1a1a1a" stroke-width="1.1"/>
<line x1="314.8" y1="991.3" x2="319" y2="991.3" stroke="#1a1a1a" stroke-width="1.2"/>
<text x="311.7" y="995.35" font-size="13" text-anchor="end" fill="#111111" stroke="#111111" stroke-width="0.3" >0.00</text>
<line x1="314.8" y1="909" x2="319" y2="909" stroke="#1a1a1a" stroke-width="1.2"/>
<text x="311.7" y="913.05" font-size="13" text-anchor="end" fill="#111111" stroke="#111111" stroke-width="0.3" >0.05</text>
<line x1="316.6" y1="950.1" x2="319" y2="950.1" stroke="#1a1a1a" stroke-width="1.1"/>
<line x1="314.8" y1="1090.2" x2="319" y2="1090.2" stroke="#1a1a1a" stroke-width="1.2"/>
<text x="311.7" y="1094.25" font-size="13" text-anchor="end" fill="#111111" stroke="#111111" stroke-width="0.3" >0.0</text>
<line x1="314.8" y1="1028.4" x2="319" y2="1028.4" stroke="#1a1a1a" stroke-width="1.2"/>
<text x="311.7" y="1032.45" font-size="13" text-anchor="end" fill="#111111" stroke="#111111" stroke-width="0.3" >0.3</text>
<line x1="316.6" y1="1059.3" x2="319" y2="1059.3" stroke="#1a1a1a" stroke-width="1.1"/>
<line x1="316.6" y1="997.5" x2="319" y2="997.5" stroke="#1a1a1a" stroke-width="1.1"/>
<line x1="319" y1="1090.2" x2="319" y2="1095.4" stroke="#1a1a1a" stroke-width="1.2"/>
<text x="319" y="1108.05" font-size="13" text-anchor="middle" fill="#111111" stroke="#111111" stroke-width="0.3" >-8</text>
<line x1="337.03" y1="1090.2" x2="337.03" y2="1093.4" stroke="#1a1a1a" stroke-width="1.1"/>
<line x1="355.06" y1="1090.2" x2="355.06" y2="1095.4" stroke="#1a1a1a" stroke-width="1.2"/>
<text x="355.06" y="1108.05" font-size="13" text-anchor="middle" fill="#111111" stroke="#111111" stroke-width="0.3" >-7</text>
<line x1="373.09" y1="1090.2" x2="373.09" y2="1093.4" stroke="#1a1a1a" stroke-width="1.1"/>
<line x1="391.12" y1="1090.2" x2="391.12" y2="1095.4" stroke="#1a1a1a" stroke-width="1.2"/>
<text x="391.12" y="1108.05" font-size="13" text-anchor="middle" fill="#111111" stroke="#111111" stroke-width="0.3" >-6</text>
<line x1="409.16" y1="1090.2" x2="409.16" y2="1093.4" stroke="#1a1a1a" stroke-width="1.1"/>
<line x1="427.19" y1="1090.2" x2="427.19" y2="1095.4" stroke="#1a1a1a" stroke-width="1.2"/>
<text x="427.19" y="1108.05" font-size="13" text-anchor="middle" fill="#111111" stroke="#111111" stroke-width="0.3" >-5</text>
<line x1="445.22" y1="1090.2" x2="445.22" y2="1093.4" stroke="#1a1a1a" stroke-width="1.1"/>
<line x1="463.25" y1="1090.2" x2="463.25" y2="1095.4" stroke="#1a1a1a" stroke-width="1.2"/>
<text x="463.25" y="1108.05" font-size="13" text-anchor="middle" fill="#111111" stroke="#111111" stroke-width="0.3" >-4</text>
<line x1="481.28" y1="1090.2" x2="481.28" y2="1093.4" stroke="#1a1a1a" stroke-width="1.1"/>
<line x1="499.31" y1="1090.2" x2="499.31" y2="1095.4" stroke="#1a1a1a" stroke-width="1.2"/>
<text x="499.31" y="1108.05" font-size="13" text-anchor="middle" fill="#111111" stroke="#111111" stroke-width="0.3" >-3</text>
<line x1="517.34" y1="1090.2" x2="517.34" y2="1093.4" stroke="#1a1a1a" stroke-width="1.1"/>
<line x1="535.38" y1="1090.2" x2="535.38" y2="1095.4" stroke="#1a1a1a" stroke-width="1.2"/>
<text x="535.38" y="1108.05" font-size="13" text-anchor="middle" fill="#111111" stroke="#111111" stroke-width="0.3" >-2</text>
<line x1="553.41" y1="1090.2" x2="553.41" y2="1093.4" stroke="#1a1a1a" stroke-width="1.1"/>
<line x1="571.44" y1="1090.2" x2="571.44" y2="1095.4" stroke="#1a1a1a" stroke-width="1.2"/>
<text x="571.44" y="1108.05" font-size="13" text-anchor="middle" fill="#111111" stroke="#111111" stroke-width="0.3" >-1</text>
<line x1="589.47" y1="1090.2" x2="589.47" y2="1093.4" stroke="#1a1a1a" stroke-width="1.1"/>
<line x1="607.5" y1="1090.2" x2="607.5" y2="1095.4" stroke="#1a1a1a" stroke-width="1.2"/>
<text x="607.5" y="1108.05" font-size="13" text-anchor="middle" fill="#111111" stroke="#111111" stroke-width="0.3" >0</text>
<line x1="625.53" y1="1090.2" x2="625.53" y2="1093.4" stroke="#1a1a1a" stroke-width="1.1"/>
<line x1="643.56" y1="1090.2" x2="643.56" y2="1095.4" stroke="#1a1a1a" stroke-width="1.2"/>
<text x="643.56" y="1108.05" font-size="13" text-anchor="middle" fill="#111111" stroke="#111111" stroke-width="0.3" >1</text>
<line x1="661.59" y1="1090.2" x2="661.59" y2="1093.4" stroke="#1a1a1a" stroke-width="1.1"/>
<line x1="679.62" y1="1090.2" x2="679.62" y2="1095.4" stroke="#1a1a1a" stroke-width="1.2"/>
<text x="679.62" y="1108.05" font-size="13" text-anchor="middle" fill="#111111" stroke="#111111" stroke-width="0.3" >2</text>
<line x1="697.66" y1="1090.2" x2="697.66" y2="1093.4" stroke="#1a1a1a" stroke-width="1.1"/>
<line x1="715.69" y1="1090.2" x2="715.69" y2="1095.4" stroke="#1a1a1a" stroke-width="1.2"/>
<text x="715.69" y="1108.05" font-size="13" text-anchor="middle" fill="#111111" stroke="#111111" stroke-width="0.3" >3</text>
<line x1="733.72" y1="1090.2" x2="733.72" y2="1093.4" stroke="#1a1a1a" stroke-width="1.1"/>
<line x1="751.75" y1="1090.2" x2="751.75" y2="1095.4" stroke="#1a1a1a" stroke-width="1.2"/>
<text x="751.75" y="1108.05" font-size="13" text-anchor="middle" fill="#111111" stroke="#111111" stroke-width="0.3" >4</text>
<rect x="215.7" y="11" width="86.6" height="4" fill="#ffffff"/>
<text transform="translate(21.6 260) rotate(-90)" font-size="13.9" text-anchor="middle" fill="#111111" stroke="#111111" stroke-width="0.3">Density of States (electrons/eV)</text>
<text transform="translate(543.3 260) rotate(-90)" font-size="13.9" text-anchor="middle" fill="#111111" stroke="#111111" stroke-width="0.3">Density of States (electrons/eV)</text>
<text transform="translate(284.2 843.5) rotate(-90)" font-size="13.9" text-anchor="middle" fill="#111111" stroke="#111111" stroke-width="0.3">Density of States (electrons/eV)</text>
<text x="275.2" y="548.28" font-size="13.9" text-anchor="middle" fill="#111111" stroke="#111111" stroke-width="0.3" >Energy (eV)</text>
<text x="798" y="548.28" font-size="13.9" text-anchor="middle" fill="#111111" stroke="#111111" stroke-width="0.3" >Energy (eV)</text>
<text x="535" y="1131.48" font-size="13.9" text-anchor="middle" fill="#111111" stroke="#111111" stroke-width="0.3" >Energy (eV)</text>
<text x="252" y="585.4" font-family="'Liberation Serif', serif" font-size="27.5" text-anchor="middle" fill="#000">(<tspan font-weight="bold" font-size="28.5">a</tspan>)</text>
<text x="774" y="585.4" font-family="'Liberation Serif', serif" font-size="27.5" text-anchor="middle" fill="#000">(<tspan font-weight="bold" font-size="28.5">b</tspan>)</text>
<text x="513.5" y="1168.2" font-family="'Liberation Serif', serif" font-size="27.5" text-anchor="middle" fill="#000">(<tspan font-weight="bold" font-size="28.5">c</tspan>)</text>
</svg>
</body>
</html>
